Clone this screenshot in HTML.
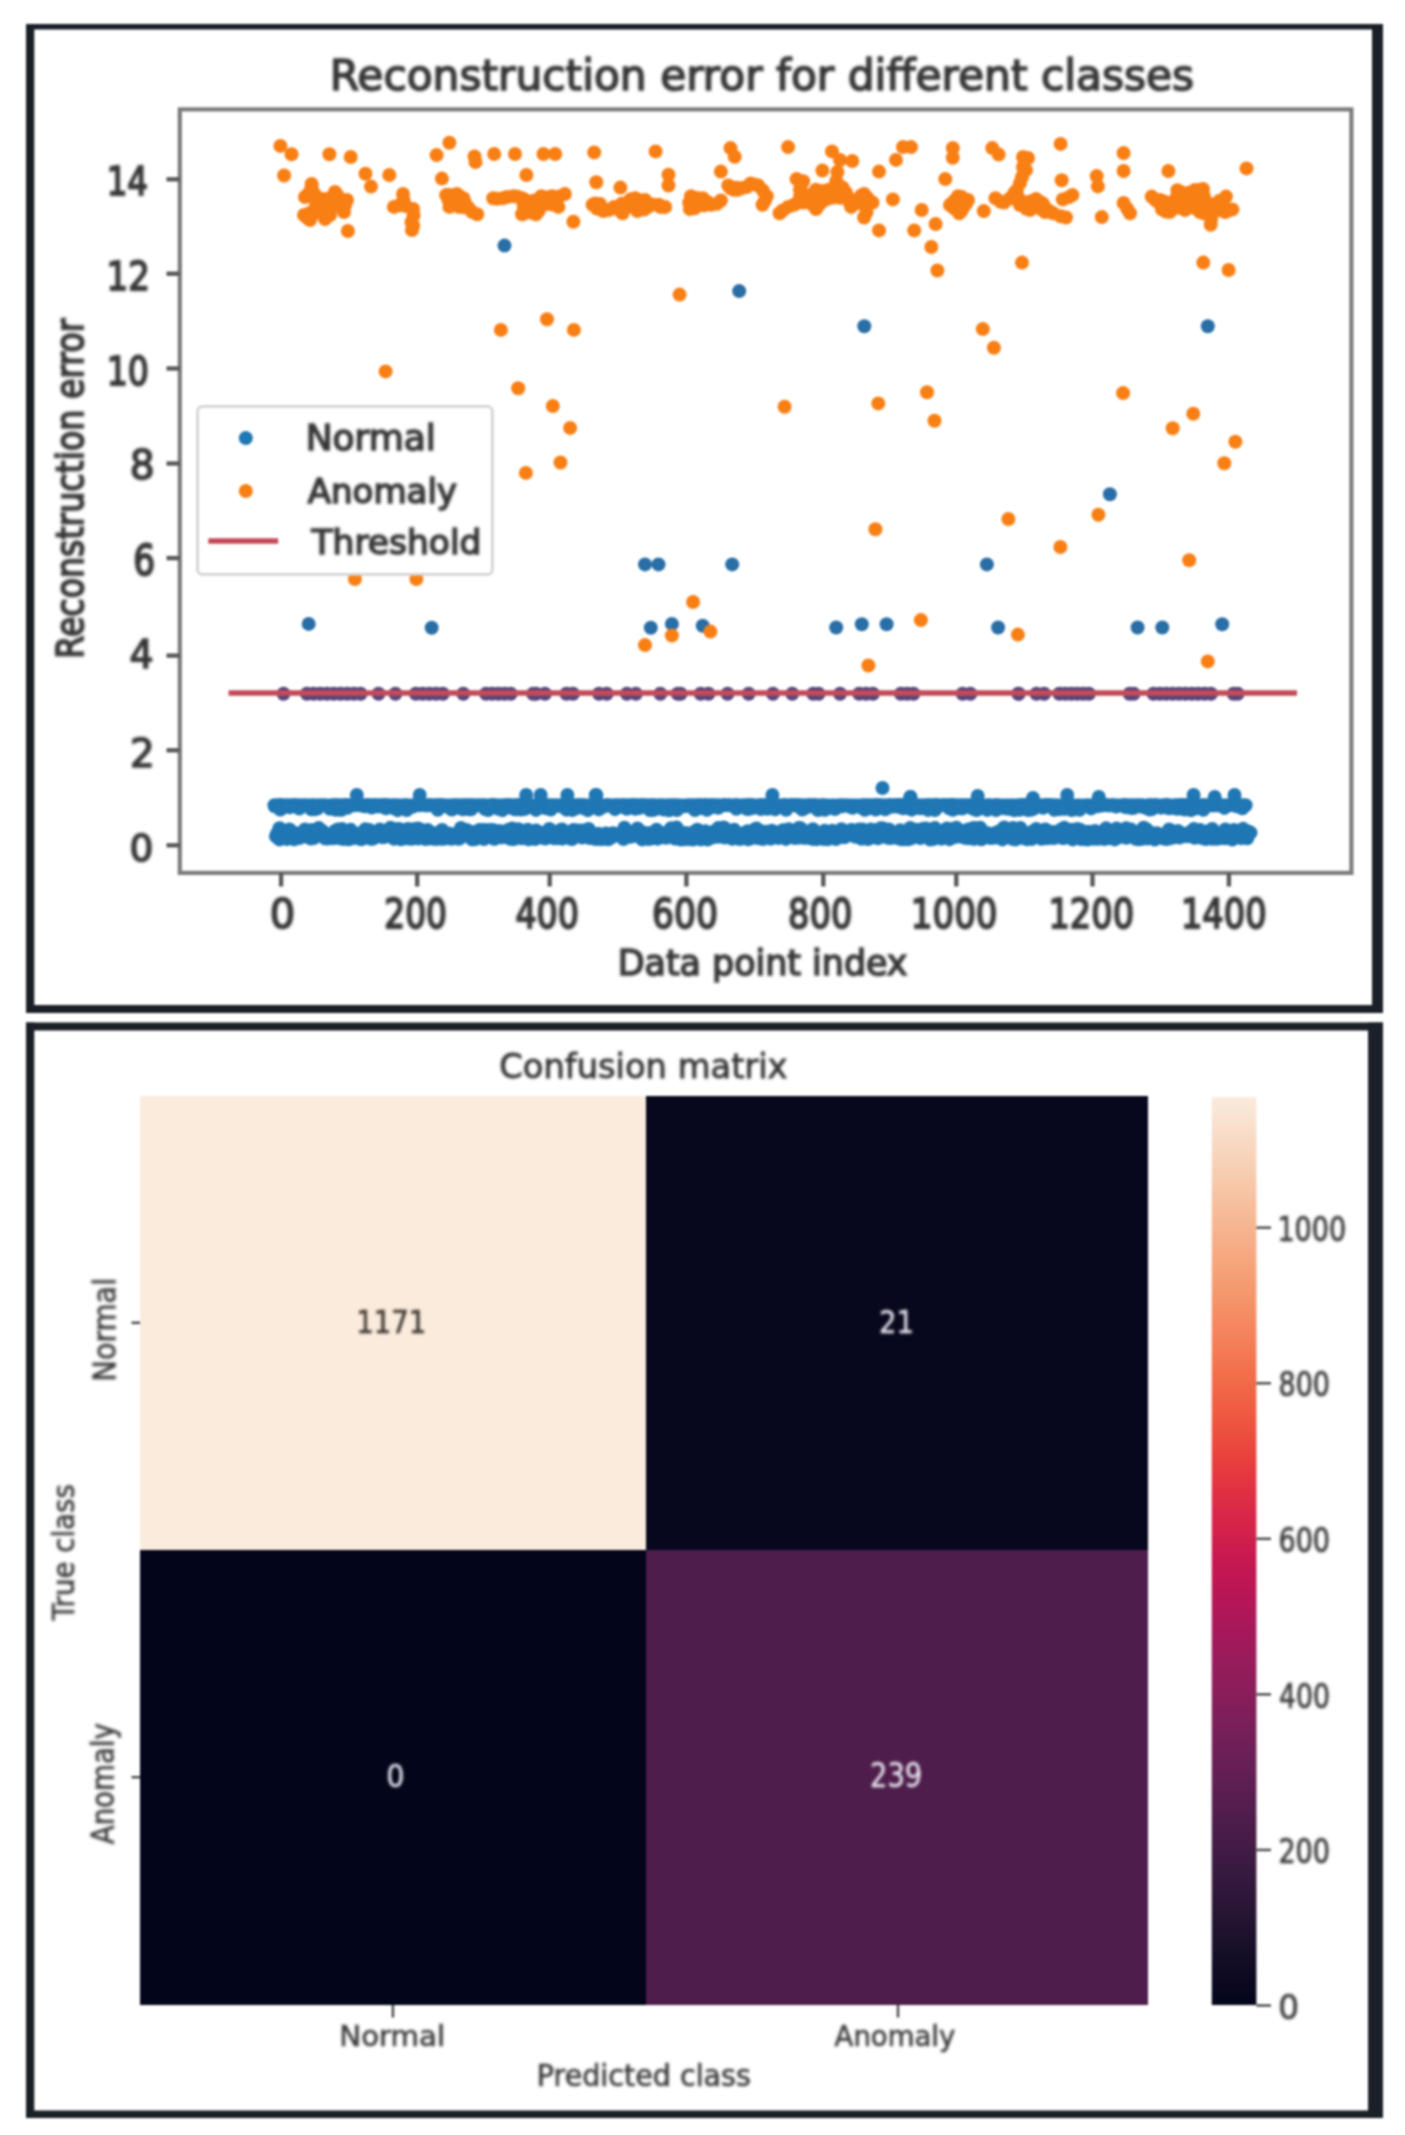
<!DOCTYPE html><html><head><meta charset="utf-8"><title>Reconstruction error and confusion matrix</title>
<style>html,body{margin:0;padding:0;background:#fff;}svg{display:block;}text{font-family:'DejaVu Sans', 'Liberation Sans', sans-serif;}</style></head><body>
<svg width="1405" height="2135" viewBox="0 0 1405 2135">
<defs>
<linearGradient id="rocket" x1="0" y1="1" x2="0" y2="0">
<stop offset="0.0000" stop-color="#03051a"/>
<stop offset="0.0312" stop-color="#0d0a21"/>
<stop offset="0.0625" stop-color="#180f29"/>
<stop offset="0.0938" stop-color="#241432"/>
<stop offset="0.1250" stop-color="#30173a"/>
<stop offset="0.1562" stop-color="#3c1a42"/>
<stop offset="0.1875" stop-color="#481c48"/>
<stop offset="0.2188" stop-color="#541e4e"/>
<stop offset="0.2500" stop-color="#611f53"/>
<stop offset="0.2812" stop-color="#6e1f57"/>
<stop offset="0.3125" stop-color="#7b1f59"/>
<stop offset="0.3438" stop-color="#891e5b"/>
<stop offset="0.3750" stop-color="#971c5b"/>
<stop offset="0.4062" stop-color="#a4195b"/>
<stop offset="0.4375" stop-color="#b21758"/>
<stop offset="0.4688" stop-color="#bf1654"/>
<stop offset="0.5000" stop-color="#cb1b4f"/>
<stop offset="0.5312" stop-color="#d62449"/>
<stop offset="0.5625" stop-color="#df2f44"/>
<stop offset="0.5938" stop-color="#e73d3f"/>
<stop offset="0.6250" stop-color="#ec4c3e"/>
<stop offset="0.6562" stop-color="#f05c42"/>
<stop offset="0.6875" stop-color="#f26b49"/>
<stop offset="0.7188" stop-color="#f47a54"/>
<stop offset="0.7500" stop-color="#f58860"/>
<stop offset="0.7812" stop-color="#f5966c"/>
<stop offset="0.8125" stop-color="#f6a37a"/>
<stop offset="0.8438" stop-color="#f6b089"/>
<stop offset="0.8750" stop-color="#f6bc99"/>
<stop offset="0.9062" stop-color="#f7c9aa"/>
<stop offset="0.9375" stop-color="#f8d4bc"/>
<stop offset="0.9688" stop-color="#f9e0cd"/>
<stop offset="1.0000" stop-color="#faebdd"/>
</linearGradient>
<filter id="soft" x="-5%" y="-5%" width="110%" height="110%" color-interpolation-filters="sRGB"><feGaussianBlur stdDeviation="0.9"/></filter>
<filter id="tsoft" x="-10%" y="-30%" width="120%" height="160%" color-interpolation-filters="sRGB"><feGaussianBlur stdDeviation="1.0"/></filter>
</defs>
<rect width="1405" height="2135" fill="#ffffff"/>
<g id="main" filter="url(#soft)">
<rect x="26" y="24" width="1357" height="5.5" fill="#1b1f27"/>
<rect x="26" y="24" width="8.3" height="989" fill="#1b1f27"/>
<rect x="1372" y="24" width="11" height="989" fill="#1b1f27"/>
<rect x="26" y="1005" width="1357" height="8" fill="#1b1f27"/>
<g fill="#1f77b4"><circle cx="274.5" cy="805.19" r="7.0"/><circle cx="274.8" cy="806.3" r="7.0"/><circle cx="277.57" cy="805.22" r="7.0"/><circle cx="277.59" cy="806.16" r="7.0"/><circle cx="280.44" cy="805.04" r="7.0"/><circle cx="280.29" cy="809.47" r="7.0"/><circle cx="282.69" cy="805.13" r="7.0"/><circle cx="286.58" cy="805.35" r="7.0"/><circle cx="287.53" cy="806.2" r="7.0"/><circle cx="290.3" cy="805.17" r="7.0"/><circle cx="289.53" cy="807.3" r="7.0"/><circle cx="293.93" cy="805.11" r="7.0"/><circle cx="297.21" cy="805.22" r="7.0"/><circle cx="296.33" cy="806.25" r="7.0"/><circle cx="299.62" cy="805.41" r="7.0"/><circle cx="299.25" cy="808.46" r="7.0"/><circle cx="302.53" cy="805.18" r="7.0"/><circle cx="305.93" cy="805.15" r="7.0"/><circle cx="308.98" cy="805.53" r="7.0"/><circle cx="311.55" cy="805.59" r="7.0"/><circle cx="311.39" cy="809.18" r="7.0"/><circle cx="313.86" cy="805.29" r="7.0"/><circle cx="314.19" cy="809.21" r="7.0"/><circle cx="317" cy="805.53" r="7.0"/><circle cx="317.39" cy="808.5" r="7.0"/><circle cx="320.16" cy="805.27" r="7.0"/><circle cx="324.05" cy="805.28" r="7.0"/><circle cx="326.17" cy="805.42" r="7.0"/><circle cx="330.16" cy="805.49" r="7.0"/><circle cx="329.93" cy="808.81" r="7.0"/><circle cx="332.2" cy="805.28" r="7.0"/><circle cx="331.44" cy="806.25" r="7.0"/><circle cx="335.74" cy="805.08" r="7.0"/><circle cx="335.52" cy="809.66" r="7.0"/><circle cx="337.9" cy="805.27" r="7.0"/><circle cx="338.67" cy="809.44" r="7.0"/><circle cx="341.63" cy="805.17" r="7.0"/><circle cx="341.35" cy="809.71" r="7.0"/><circle cx="345.54" cy="805.09" r="7.0"/><circle cx="345.01" cy="806.98" r="7.0"/><circle cx="348.51" cy="805.35" r="7.0"/><circle cx="347.52" cy="807.76" r="7.0"/><circle cx="351.25" cy="805.34" r="7.0"/><circle cx="354.63" cy="805.31" r="7.0"/><circle cx="357.99" cy="805.03" r="7.0"/><circle cx="361.55" cy="805.52" r="7.0"/><circle cx="364.33" cy="805.24" r="7.0"/><circle cx="364.6" cy="806.26" r="7.0"/><circle cx="366.47" cy="805.13" r="7.0"/><circle cx="366.15" cy="806.22" r="7.0"/><circle cx="368.47" cy="805.09" r="7.0"/><circle cx="368.19" cy="806.11" r="7.0"/><circle cx="372.21" cy="805.37" r="7.0"/><circle cx="371.72" cy="807.46" r="7.0"/><circle cx="374.94" cy="805.07" r="7.0"/><circle cx="378.93" cy="805.28" r="7.0"/><circle cx="378.1" cy="806.43" r="7.0"/><circle cx="381.61" cy="805.16" r="7.0"/><circle cx="383.94" cy="805.01" r="7.0"/><circle cx="386.99" cy="805.09" r="7.0"/><circle cx="386.05" cy="808.22" r="7.0"/><circle cx="390.95" cy="805.52" r="7.0"/><circle cx="393.47" cy="805.22" r="7.0"/><circle cx="394.02" cy="808.24" r="7.0"/><circle cx="397.03" cy="805.2" r="7.0"/><circle cx="397.65" cy="810.14" r="7.0"/><circle cx="400.74" cy="805.48" r="7.0"/><circle cx="404.22" cy="805.14" r="7.0"/><circle cx="403.93" cy="806.12" r="7.0"/><circle cx="406.27" cy="805.17" r="7.0"/><circle cx="406.66" cy="810.02" r="7.0"/><circle cx="409.17" cy="805.56" r="7.0"/><circle cx="413.08" cy="805.22" r="7.0"/><circle cx="412.53" cy="806.83" r="7.0"/><circle cx="415.49" cy="805.37" r="7.0"/><circle cx="419.17" cy="805.29" r="7.0"/><circle cx="422.77" cy="805.05" r="7.0"/><circle cx="426.59" cy="805.47" r="7.0"/><circle cx="429.54" cy="805.11" r="7.0"/><circle cx="432.21" cy="805.48" r="7.0"/><circle cx="435" cy="805.24" r="7.0"/><circle cx="438.45" cy="805.1" r="7.0"/><circle cx="437.75" cy="809.8" r="7.0"/><circle cx="442.06" cy="805.09" r="7.0"/><circle cx="446.02" cy="805.39" r="7.0"/><circle cx="446.12" cy="806.55" r="7.0"/><circle cx="448.05" cy="805.58" r="7.0"/><circle cx="451.1" cy="805.56" r="7.0"/><circle cx="451.85" cy="809.47" r="7.0"/><circle cx="453.52" cy="805.15" r="7.0"/><circle cx="453.01" cy="808.46" r="7.0"/><circle cx="456.04" cy="805.25" r="7.0"/><circle cx="456.86" cy="807.49" r="7.0"/><circle cx="458.96" cy="805.35" r="7.0"/><circle cx="461.8" cy="805.55" r="7.0"/><circle cx="461.86" cy="808.2" r="7.0"/><circle cx="463.84" cy="805.26" r="7.0"/><circle cx="462.85" cy="809.36" r="7.0"/><circle cx="466.18" cy="805.28" r="7.0"/><circle cx="469.3" cy="805.2" r="7.0"/><circle cx="469.41" cy="809.29" r="7.0"/><circle cx="471.51" cy="805.34" r="7.0"/><circle cx="471.06" cy="809.24" r="7.0"/><circle cx="474.52" cy="805.34" r="7.0"/><circle cx="478.35" cy="805.27" r="7.0"/><circle cx="481.36" cy="805.31" r="7.0"/><circle cx="484.26" cy="805.32" r="7.0"/><circle cx="485.15" cy="808.94" r="7.0"/><circle cx="488.02" cy="805.57" r="7.0"/><circle cx="488.14" cy="809.96" r="7.0"/><circle cx="491.7" cy="805.08" r="7.0"/><circle cx="491.58" cy="806.3" r="7.0"/><circle cx="494.18" cy="805.04" r="7.0"/><circle cx="497.75" cy="805.54" r="7.0"/><circle cx="498.18" cy="808.77" r="7.0"/><circle cx="500.03" cy="805.53" r="7.0"/><circle cx="502.47" cy="805.57" r="7.0"/><circle cx="502.45" cy="810.16" r="7.0"/><circle cx="506.14" cy="805.1" r="7.0"/><circle cx="506.17" cy="807.42" r="7.0"/><circle cx="508.53" cy="805.19" r="7.0"/><circle cx="510.57" cy="805.33" r="7.0"/><circle cx="509.6" cy="807.39" r="7.0"/><circle cx="513.82" cy="805.31" r="7.0"/><circle cx="514.79" cy="809.31" r="7.0"/><circle cx="517.76" cy="805.06" r="7.0"/><circle cx="516.84" cy="809.27" r="7.0"/><circle cx="520.3" cy="805.08" r="7.0"/><circle cx="521.12" cy="809.44" r="7.0"/><circle cx="522.82" cy="805.09" r="7.0"/><circle cx="525.96" cy="805.42" r="7.0"/><circle cx="525.07" cy="808.89" r="7.0"/><circle cx="528.81" cy="805.04" r="7.0"/><circle cx="532.08" cy="805.48" r="7.0"/><circle cx="532.79" cy="806.28" r="7.0"/><circle cx="535.8" cy="805.27" r="7.0"/><circle cx="535.91" cy="809.89" r="7.0"/><circle cx="538.34" cy="805.08" r="7.0"/><circle cx="537.82" cy="806.46" r="7.0"/><circle cx="540.66" cy="805.03" r="7.0"/><circle cx="540.29" cy="807.28" r="7.0"/><circle cx="544.18" cy="805.17" r="7.0"/><circle cx="543.54" cy="807.46" r="7.0"/><circle cx="546.22" cy="805.15" r="7.0"/><circle cx="546.68" cy="808.31" r="7.0"/><circle cx="548.6" cy="805.28" r="7.0"/><circle cx="550.81" cy="805.49" r="7.0"/><circle cx="550.8" cy="809.51" r="7.0"/><circle cx="553.59" cy="805.3" r="7.0"/><circle cx="557.56" cy="805.21" r="7.0"/><circle cx="560.97" cy="805.38" r="7.0"/><circle cx="560.67" cy="806.23" r="7.0"/><circle cx="563.23" cy="805.04" r="7.0"/><circle cx="565.74" cy="805.1" r="7.0"/><circle cx="566.43" cy="809.66" r="7.0"/><circle cx="569.08" cy="805.17" r="7.0"/><circle cx="568.67" cy="807.93" r="7.0"/><circle cx="571.4" cy="805.27" r="7.0"/><circle cx="572.32" cy="810.09" r="7.0"/><circle cx="574.49" cy="805.15" r="7.0"/><circle cx="577.11" cy="805.21" r="7.0"/><circle cx="576.88" cy="807.99" r="7.0"/><circle cx="580.12" cy="805.12" r="7.0"/><circle cx="579.13" cy="807.11" r="7.0"/><circle cx="582.3" cy="805.24" r="7.0"/><circle cx="581.34" cy="807.28" r="7.0"/><circle cx="584.76" cy="805.35" r="7.0"/><circle cx="585.26" cy="808.76" r="7.0"/><circle cx="588.2" cy="805.53" r="7.0"/><circle cx="587.85" cy="810.14" r="7.0"/><circle cx="590.49" cy="805.43" r="7.0"/><circle cx="592.58" cy="805.5" r="7.0"/><circle cx="595.84" cy="805.44" r="7.0"/><circle cx="598.12" cy="805.31" r="7.0"/><circle cx="598.79" cy="809.38" r="7.0"/><circle cx="601.77" cy="805.35" r="7.0"/><circle cx="605.13" cy="805.42" r="7.0"/><circle cx="604.2" cy="806.56" r="7.0"/><circle cx="607.86" cy="805.06" r="7.0"/><circle cx="610.97" cy="805.38" r="7.0"/><circle cx="614.33" cy="805.29" r="7.0"/><circle cx="614.93" cy="809.14" r="7.0"/><circle cx="617.34" cy="805.32" r="7.0"/><circle cx="619.47" cy="805.44" r="7.0"/><circle cx="618.62" cy="807.12" r="7.0"/><circle cx="622.93" cy="805.12" r="7.0"/><circle cx="626.88" cy="805.3" r="7.0"/><circle cx="626.84" cy="808.87" r="7.0"/><circle cx="630.42" cy="805.37" r="7.0"/><circle cx="632.57" cy="805.09" r="7.0"/><circle cx="633.06" cy="807.28" r="7.0"/><circle cx="635.71" cy="805.01" r="7.0"/><circle cx="635.24" cy="808.82" r="7.0"/><circle cx="639.09" cy="805.41" r="7.0"/><circle cx="639.12" cy="807.95" r="7.0"/><circle cx="642.02" cy="805.07" r="7.0"/><circle cx="644.42" cy="805.59" r="7.0"/><circle cx="646.46" cy="805.28" r="7.0"/><circle cx="650.39" cy="805.27" r="7.0"/><circle cx="649.81" cy="809.97" r="7.0"/><circle cx="652.81" cy="805.35" r="7.0"/><circle cx="652.86" cy="810" r="7.0"/><circle cx="655.08" cy="805.49" r="7.0"/><circle cx="655.85" cy="808.95" r="7.0"/><circle cx="657.54" cy="805.54" r="7.0"/><circle cx="656.59" cy="806.02" r="7.0"/><circle cx="660.53" cy="805.27" r="7.0"/><circle cx="659.81" cy="807.44" r="7.0"/><circle cx="663.16" cy="805.5" r="7.0"/><circle cx="663.66" cy="809.52" r="7.0"/><circle cx="665.4" cy="805.56" r="7.0"/><circle cx="669.2" cy="805.17" r="7.0"/><circle cx="668.99" cy="810.19" r="7.0"/><circle cx="672.38" cy="805.22" r="7.0"/><circle cx="671.93" cy="806.2" r="7.0"/><circle cx="674.58" cy="805.5" r="7.0"/><circle cx="675.45" cy="807.05" r="7.0"/><circle cx="677.11" cy="805.31" r="7.0"/><circle cx="676.86" cy="810.02" r="7.0"/><circle cx="680.88" cy="805.49" r="7.0"/><circle cx="684.71" cy="805.56" r="7.0"/><circle cx="685.15" cy="806.21" r="7.0"/><circle cx="688.17" cy="805.27" r="7.0"/><circle cx="691.46" cy="805.17" r="7.0"/><circle cx="692.32" cy="806.53" r="7.0"/><circle cx="694.41" cy="805.21" r="7.0"/><circle cx="694.89" cy="810.1" r="7.0"/><circle cx="696.93" cy="805.39" r="7.0"/><circle cx="697.04" cy="807.66" r="7.0"/><circle cx="699.26" cy="805.1" r="7.0"/><circle cx="700.08" cy="808.09" r="7.0"/><circle cx="701.7" cy="805.54" r="7.0"/><circle cx="704.6" cy="805.08" r="7.0"/><circle cx="703.78" cy="807.44" r="7.0"/><circle cx="706.79" cy="805.14" r="7.0"/><circle cx="706.92" cy="809.73" r="7.0"/><circle cx="710.28" cy="805.25" r="7.0"/><circle cx="710.33" cy="807.58" r="7.0"/><circle cx="712.96" cy="805.04" r="7.0"/><circle cx="713.9" cy="806.53" r="7.0"/><circle cx="715.97" cy="805.38" r="7.0"/><circle cx="718.4" cy="805.16" r="7.0"/><circle cx="718.2" cy="807.87" r="7.0"/><circle cx="722.31" cy="805.51" r="7.0"/><circle cx="724.35" cy="805.02" r="7.0"/><circle cx="728.14" cy="805.28" r="7.0"/><circle cx="730.14" cy="805.23" r="7.0"/><circle cx="733.79" cy="805.51" r="7.0"/><circle cx="736.29" cy="805.07" r="7.0"/><circle cx="736.34" cy="808.86" r="7.0"/><circle cx="740.17" cy="805.43" r="7.0"/><circle cx="743.7" cy="805.27" r="7.0"/><circle cx="745.78" cy="805.47" r="7.0"/><circle cx="746.62" cy="808.71" r="7.0"/><circle cx="748.39" cy="805.08" r="7.0"/><circle cx="748.66" cy="808.93" r="7.0"/><circle cx="750.61" cy="805.04" r="7.0"/><circle cx="750.78" cy="807.63" r="7.0"/><circle cx="753.06" cy="805.36" r="7.0"/><circle cx="752.66" cy="807.93" r="7.0"/><circle cx="756.98" cy="805.39" r="7.0"/><circle cx="759.93" cy="805.14" r="7.0"/><circle cx="760.85" cy="808.96" r="7.0"/><circle cx="762.55" cy="805.01" r="7.0"/><circle cx="762.89" cy="807.76" r="7.0"/><circle cx="765.06" cy="805.4" r="7.0"/><circle cx="767.51" cy="805.02" r="7.0"/><circle cx="767.35" cy="808.87" r="7.0"/><circle cx="769.91" cy="805.48" r="7.0"/><circle cx="772.92" cy="805.12" r="7.0"/><circle cx="775.54" cy="805.49" r="7.0"/><circle cx="774.99" cy="809.19" r="7.0"/><circle cx="778.13" cy="805.57" r="7.0"/><circle cx="777.51" cy="806.94" r="7.0"/><circle cx="780.97" cy="805.4" r="7.0"/><circle cx="783.26" cy="805.24" r="7.0"/><circle cx="784.21" cy="806.6" r="7.0"/><circle cx="785.36" cy="805.04" r="7.0"/><circle cx="786.16" cy="809.71" r="7.0"/><circle cx="788.83" cy="805.6" r="7.0"/><circle cx="791.49" cy="805.11" r="7.0"/><circle cx="794.98" cy="805.02" r="7.0"/><circle cx="797.74" cy="805.22" r="7.0"/><circle cx="797.08" cy="806.01" r="7.0"/><circle cx="800.3" cy="805.21" r="7.0"/><circle cx="802.54" cy="805.58" r="7.0"/><circle cx="802.26" cy="809.45" r="7.0"/><circle cx="806.19" cy="805.26" r="7.0"/><circle cx="806.13" cy="807.57" r="7.0"/><circle cx="810.03" cy="805.12" r="7.0"/><circle cx="810.82" cy="806.13" r="7.0"/><circle cx="812.85" cy="805.49" r="7.0"/><circle cx="814.93" cy="805.02" r="7.0"/><circle cx="815.77" cy="807.08" r="7.0"/><circle cx="818.42" cy="805.54" r="7.0"/><circle cx="817.97" cy="810.02" r="7.0"/><circle cx="821.66" cy="805.16" r="7.0"/><circle cx="824.29" cy="805.17" r="7.0"/><circle cx="824.8" cy="809.85" r="7.0"/><circle cx="827.56" cy="805.57" r="7.0"/><circle cx="827.03" cy="808" r="7.0"/><circle cx="831.47" cy="805.57" r="7.0"/><circle cx="830.97" cy="807.81" r="7.0"/><circle cx="834.46" cy="805.56" r="7.0"/><circle cx="835.06" cy="809.1" r="7.0"/><circle cx="838.11" cy="805.46" r="7.0"/><circle cx="840.76" cy="805.19" r="7.0"/><circle cx="841.33" cy="806.33" r="7.0"/><circle cx="843.16" cy="805.45" r="7.0"/><circle cx="842.28" cy="806.14" r="7.0"/><circle cx="846.26" cy="805.2" r="7.0"/><circle cx="850.03" cy="805.59" r="7.0"/><circle cx="849.2" cy="806.4" r="7.0"/><circle cx="853.02" cy="805.43" r="7.0"/><circle cx="852.49" cy="807.75" r="7.0"/><circle cx="856.27" cy="805.4" r="7.0"/><circle cx="859.96" cy="805.4" r="7.0"/><circle cx="860.64" cy="807.23" r="7.0"/><circle cx="863.09" cy="805.22" r="7.0"/><circle cx="865.49" cy="805.15" r="7.0"/><circle cx="864.8" cy="809.71" r="7.0"/><circle cx="868.65" cy="805.2" r="7.0"/><circle cx="869.63" cy="808.13" r="7.0"/><circle cx="871.11" cy="805.49" r="7.0"/><circle cx="875.09" cy="805.06" r="7.0"/><circle cx="875.73" cy="809.53" r="7.0"/><circle cx="878.92" cy="805.02" r="7.0"/><circle cx="878.16" cy="806.8" r="7.0"/><circle cx="882.87" cy="805.35" r="7.0"/><circle cx="885.61" cy="805.52" r="7.0"/><circle cx="885.13" cy="809.27" r="7.0"/><circle cx="889.5" cy="805.06" r="7.0"/><circle cx="892.74" cy="805.13" r="7.0"/><circle cx="892.03" cy="806.86" r="7.0"/><circle cx="895.25" cy="805.36" r="7.0"/><circle cx="897.66" cy="805.01" r="7.0"/><circle cx="898.02" cy="806.78" r="7.0"/><circle cx="900.28" cy="805.12" r="7.0"/><circle cx="903.38" cy="805.04" r="7.0"/><circle cx="903.17" cy="808.31" r="7.0"/><circle cx="906.66" cy="805.05" r="7.0"/><circle cx="907.05" cy="807.72" r="7.0"/><circle cx="909.23" cy="805.18" r="7.0"/><circle cx="911.85" cy="805.34" r="7.0"/><circle cx="911.68" cy="809.63" r="7.0"/><circle cx="915.84" cy="805.22" r="7.0"/><circle cx="916.3" cy="806.86" r="7.0"/><circle cx="917.85" cy="805.54" r="7.0"/><circle cx="918.5" cy="807.71" r="7.0"/><circle cx="921.62" cy="805.28" r="7.0"/><circle cx="920.65" cy="808.32" r="7.0"/><circle cx="924.9" cy="805.55" r="7.0"/><circle cx="925.15" cy="807.56" r="7.0"/><circle cx="927.91" cy="805.09" r="7.0"/><circle cx="927.95" cy="809.89" r="7.0"/><circle cx="930.13" cy="805.29" r="7.0"/><circle cx="934.06" cy="805.12" r="7.0"/><circle cx="934.95" cy="810.1" r="7.0"/><circle cx="937.03" cy="805.03" r="7.0"/><circle cx="939.8" cy="805.54" r="7.0"/><circle cx="943.45" cy="805.1" r="7.0"/><circle cx="945.9" cy="805.24" r="7.0"/><circle cx="949.55" cy="805.11" r="7.0"/><circle cx="949.35" cy="808.18" r="7.0"/><circle cx="952.32" cy="805.07" r="7.0"/><circle cx="952.77" cy="809.77" r="7.0"/><circle cx="954.4" cy="805.34" r="7.0"/><circle cx="956.48" cy="805.5" r="7.0"/><circle cx="956.68" cy="808.31" r="7.0"/><circle cx="959.73" cy="805.18" r="7.0"/><circle cx="959.9" cy="807.79" r="7.0"/><circle cx="963.05" cy="805.27" r="7.0"/><circle cx="962.1" cy="808.6" r="7.0"/><circle cx="966.03" cy="805.14" r="7.0"/><circle cx="969.59" cy="805.27" r="7.0"/><circle cx="969.54" cy="806.45" r="7.0"/><circle cx="971.85" cy="805.26" r="7.0"/><circle cx="971.73" cy="808.14" r="7.0"/><circle cx="973.93" cy="805.38" r="7.0"/><circle cx="974.4" cy="809.27" r="7.0"/><circle cx="976.95" cy="805.03" r="7.0"/><circle cx="976.71" cy="809.99" r="7.0"/><circle cx="979.23" cy="805.51" r="7.0"/><circle cx="982.69" cy="805.49" r="7.0"/><circle cx="983.65" cy="808.07" r="7.0"/><circle cx="986.6" cy="805.55" r="7.0"/><circle cx="987.18" cy="809.91" r="7.0"/><circle cx="988.73" cy="805.21" r="7.0"/><circle cx="991.05" cy="805.54" r="7.0"/><circle cx="991.68" cy="806.6" r="7.0"/><circle cx="994.06" cy="805.55" r="7.0"/><circle cx="993.58" cy="808.13" r="7.0"/><circle cx="996.69" cy="805.02" r="7.0"/><circle cx="996.02" cy="809.93" r="7.0"/><circle cx="1000.05" cy="805.54" r="7.0"/><circle cx="1000.62" cy="806.48" r="7.0"/><circle cx="1003.11" cy="805.38" r="7.0"/><circle cx="1003.86" cy="808.33" r="7.0"/><circle cx="1006.27" cy="805.53" r="7.0"/><circle cx="1007.26" cy="808.65" r="7.0"/><circle cx="1009.06" cy="805.48" r="7.0"/><circle cx="1010.04" cy="808.42" r="7.0"/><circle cx="1011.78" cy="805.46" r="7.0"/><circle cx="1011.14" cy="809.12" r="7.0"/><circle cx="1013.88" cy="805.49" r="7.0"/><circle cx="1014.16" cy="810.13" r="7.0"/><circle cx="1017.05" cy="805.4" r="7.0"/><circle cx="1016.06" cy="806.14" r="7.0"/><circle cx="1019.35" cy="805.37" r="7.0"/><circle cx="1019.38" cy="809.76" r="7.0"/><circle cx="1021.61" cy="805.14" r="7.0"/><circle cx="1023.66" cy="805" r="7.0"/><circle cx="1022.87" cy="807.5" r="7.0"/><circle cx="1026.11" cy="805.35" r="7.0"/><circle cx="1028.52" cy="805.37" r="7.0"/><circle cx="1027.79" cy="809.93" r="7.0"/><circle cx="1031" cy="805.09" r="7.0"/><circle cx="1031.28" cy="809.66" r="7.0"/><circle cx="1034.57" cy="805.24" r="7.0"/><circle cx="1033.59" cy="808.71" r="7.0"/><circle cx="1037.69" cy="805.21" r="7.0"/><circle cx="1040.58" cy="805.56" r="7.0"/><circle cx="1043.08" cy="805.54" r="7.0"/><circle cx="1043.14" cy="807.71" r="7.0"/><circle cx="1045.55" cy="805.04" r="7.0"/><circle cx="1047.58" cy="805.33" r="7.0"/><circle cx="1049.86" cy="805.12" r="7.0"/><circle cx="1052.88" cy="805.38" r="7.0"/><circle cx="1055.22" cy="805.19" r="7.0"/><circle cx="1054.32" cy="809.74" r="7.0"/><circle cx="1058.79" cy="805.43" r="7.0"/><circle cx="1059.48" cy="809.13" r="7.0"/><circle cx="1061.72" cy="805.45" r="7.0"/><circle cx="1061.17" cy="806.44" r="7.0"/><circle cx="1064.19" cy="805.02" r="7.0"/><circle cx="1064.68" cy="808.92" r="7.0"/><circle cx="1067.88" cy="805.43" r="7.0"/><circle cx="1067.98" cy="807.83" r="7.0"/><circle cx="1071.45" cy="805.31" r="7.0"/><circle cx="1071.74" cy="810.05" r="7.0"/><circle cx="1073.89" cy="805.53" r="7.0"/><circle cx="1073.41" cy="806.99" r="7.0"/><circle cx="1077.37" cy="805.57" r="7.0"/><circle cx="1080.03" cy="805.53" r="7.0"/><circle cx="1079.51" cy="809.81" r="7.0"/><circle cx="1083.29" cy="805.42" r="7.0"/><circle cx="1087.25" cy="805.28" r="7.0"/><circle cx="1090.64" cy="805.51" r="7.0"/><circle cx="1091.09" cy="808.4" r="7.0"/><circle cx="1093.26" cy="805.13" r="7.0"/><circle cx="1095.41" cy="805.55" r="7.0"/><circle cx="1094.47" cy="806.45" r="7.0"/><circle cx="1099.27" cy="805.21" r="7.0"/><circle cx="1098.33" cy="806.17" r="7.0"/><circle cx="1102.66" cy="805.38" r="7.0"/><circle cx="1106.13" cy="805.04" r="7.0"/><circle cx="1108.86" cy="805.49" r="7.0"/><circle cx="1112.64" cy="805.04" r="7.0"/><circle cx="1116.47" cy="805.57" r="7.0"/><circle cx="1115.88" cy="806.47" r="7.0"/><circle cx="1118.54" cy="805.51" r="7.0"/><circle cx="1121.81" cy="805.5" r="7.0"/><circle cx="1124.38" cy="805.06" r="7.0"/><circle cx="1124.9" cy="806.86" r="7.0"/><circle cx="1127.02" cy="805.25" r="7.0"/><circle cx="1126.53" cy="807.19" r="7.0"/><circle cx="1130.45" cy="805.22" r="7.0"/><circle cx="1131.38" cy="808.12" r="7.0"/><circle cx="1134.15" cy="805.37" r="7.0"/><circle cx="1133.98" cy="807.83" r="7.0"/><circle cx="1137.7" cy="805.21" r="7.0"/><circle cx="1140.78" cy="805.13" r="7.0"/><circle cx="1142.96" cy="805.49" r="7.0"/><circle cx="1141.96" cy="806.85" r="7.0"/><circle cx="1146.48" cy="805.59" r="7.0"/><circle cx="1146.46" cy="808.06" r="7.0"/><circle cx="1150.08" cy="805.11" r="7.0"/><circle cx="1149.77" cy="809.49" r="7.0"/><circle cx="1152.6" cy="805.57" r="7.0"/><circle cx="1152.03" cy="808.94" r="7.0"/><circle cx="1155.59" cy="805.07" r="7.0"/><circle cx="1157.75" cy="805.47" r="7.0"/><circle cx="1161.33" cy="805.38" r="7.0"/><circle cx="1161.13" cy="807.66" r="7.0"/><circle cx="1165.11" cy="805.05" r="7.0"/><circle cx="1167.16" cy="805.12" r="7.0"/><circle cx="1167.96" cy="808.1" r="7.0"/><circle cx="1169.92" cy="805.53" r="7.0"/><circle cx="1169.84" cy="808.23" r="7.0"/><circle cx="1173.43" cy="805.45" r="7.0"/><circle cx="1176.12" cy="805.2" r="7.0"/><circle cx="1176.81" cy="808.78" r="7.0"/><circle cx="1179.61" cy="805.1" r="7.0"/><circle cx="1180.16" cy="808.43" r="7.0"/><circle cx="1181.86" cy="805.28" r="7.0"/><circle cx="1184.34" cy="805.11" r="7.0"/><circle cx="1184.74" cy="809.54" r="7.0"/><circle cx="1186.65" cy="805.09" r="7.0"/><circle cx="1186.3" cy="808.19" r="7.0"/><circle cx="1188.97" cy="805.2" r="7.0"/><circle cx="1189.92" cy="809.06" r="7.0"/><circle cx="1191.17" cy="805.58" r="7.0"/><circle cx="1190.94" cy="810.13" r="7.0"/><circle cx="1194.76" cy="805.44" r="7.0"/><circle cx="1194.15" cy="808.68" r="7.0"/><circle cx="1196.97" cy="805.12" r="7.0"/><circle cx="1196.04" cy="807.68" r="7.0"/><circle cx="1200.56" cy="805.42" r="7.0"/><circle cx="1200.82" cy="807.95" r="7.0"/><circle cx="1202.84" cy="805.36" r="7.0"/><circle cx="1203.32" cy="809.81" r="7.0"/><circle cx="1205.7" cy="805.34" r="7.0"/><circle cx="1208.54" cy="805.14" r="7.0"/><circle cx="1212.3" cy="805.46" r="7.0"/><circle cx="1216.01" cy="805.41" r="7.0"/><circle cx="1218.92" cy="805.19" r="7.0"/><circle cx="1221.11" cy="805.25" r="7.0"/><circle cx="1224.54" cy="805.38" r="7.0"/><circle cx="1224.38" cy="807.91" r="7.0"/><circle cx="1227.78" cy="805.25" r="7.0"/><circle cx="1231.64" cy="805.11" r="7.0"/><circle cx="1235.2" cy="805.23" r="7.0"/><circle cx="1236.15" cy="806.16" r="7.0"/><circle cx="1238.28" cy="805.1" r="7.0"/><circle cx="1242.17" cy="805.31" r="7.0"/><circle cx="1242.31" cy="808.27" r="7.0"/><circle cx="1245.6" cy="805.31" r="7.0"/><circle cx="276" cy="836.39" r="7.0"/><circle cx="277" cy="833.6" r="7.0"/><circle cx="277.82" cy="837.45" r="7.0"/><circle cx="278.82" cy="833.42" r="7.0"/><circle cx="279.5" cy="839.4" r="7.0"/><circle cx="280.5" cy="833.05" r="7.0"/><circle cx="279.5" cy="828.19" r="7.0"/><circle cx="281.6" cy="833.09" r="7.0"/><circle cx="282.6" cy="833.69" r="7.0"/><circle cx="284.15" cy="835.29" r="7.0"/><circle cx="285.15" cy="832.15" r="7.0"/><circle cx="286.76" cy="839.11" r="7.0"/><circle cx="287.76" cy="834.77" r="7.0"/><circle cx="289.46" cy="835.55" r="7.0"/><circle cx="290.46" cy="831.62" r="7.0"/><circle cx="289.46" cy="829.44" r="7.0"/><circle cx="292.17" cy="837.12" r="7.0"/><circle cx="293.17" cy="834.19" r="7.0"/><circle cx="294.01" cy="839.27" r="7.0"/><circle cx="295.01" cy="833.03" r="7.0"/><circle cx="296.74" cy="838.31" r="7.0"/><circle cx="297.74" cy="834.18" r="7.0"/><circle cx="299.06" cy="833.81" r="7.0"/><circle cx="300.06" cy="837.84" r="7.0"/><circle cx="301.84" cy="834.74" r="7.0"/><circle cx="302.84" cy="833.26" r="7.0"/><circle cx="303.98" cy="834.21" r="7.0"/><circle cx="304.98" cy="829.53" r="7.0"/><circle cx="305.9" cy="834.59" r="7.0"/><circle cx="306.9" cy="832.52" r="7.0"/><circle cx="308.04" cy="837.14" r="7.0"/><circle cx="309.04" cy="836.09" r="7.0"/><circle cx="310.94" cy="838.55" r="7.0"/><circle cx="311.94" cy="830.07" r="7.0"/><circle cx="313.8" cy="838.1" r="7.0"/><circle cx="314.8" cy="830.9" r="7.0"/><circle cx="316.25" cy="833.1" r="7.0"/><circle cx="317.25" cy="829.61" r="7.0"/><circle cx="318.73" cy="834.63" r="7.0"/><circle cx="319.73" cy="830.52" r="7.0"/><circle cx="318.73" cy="828.08" r="7.0"/><circle cx="321.39" cy="835.25" r="7.0"/><circle cx="322.39" cy="831.03" r="7.0"/><circle cx="324.08" cy="834.09" r="7.0"/><circle cx="325.08" cy="838.41" r="7.0"/><circle cx="326.75" cy="837.34" r="7.0"/><circle cx="327.75" cy="838.44" r="7.0"/><circle cx="329.51" cy="834.28" r="7.0"/><circle cx="330.51" cy="836.43" r="7.0"/><circle cx="332.12" cy="835.85" r="7.0"/><circle cx="333.12" cy="838.33" r="7.0"/><circle cx="334.02" cy="834.52" r="7.0"/><circle cx="335.02" cy="830.89" r="7.0"/><circle cx="335.61" cy="836.04" r="7.0"/><circle cx="336.61" cy="830.94" r="7.0"/><circle cx="337.86" cy="836.51" r="7.0"/><circle cx="338.86" cy="838.13" r="7.0"/><circle cx="337.86" cy="829.6" r="7.0"/><circle cx="340.06" cy="836.66" r="7.0"/><circle cx="341.06" cy="836.15" r="7.0"/><circle cx="342.12" cy="835.72" r="7.0"/><circle cx="343.12" cy="839.11" r="7.0"/><circle cx="342.12" cy="829.09" r="7.0"/><circle cx="344.57" cy="833.19" r="7.0"/><circle cx="345.57" cy="835.6" r="7.0"/><circle cx="347.47" cy="835.15" r="7.0"/><circle cx="348.47" cy="839.32" r="7.0"/><circle cx="349.7" cy="838.83" r="7.0"/><circle cx="350.7" cy="829.84" r="7.0"/><circle cx="352.14" cy="835.2" r="7.0"/><circle cx="353.14" cy="838.12" r="7.0"/><circle cx="354.35" cy="836.42" r="7.0"/><circle cx="355.35" cy="837.21" r="7.0"/><circle cx="356.5" cy="835.75" r="7.0"/><circle cx="357.5" cy="835.04" r="7.0"/><circle cx="358.44" cy="838.38" r="7.0"/><circle cx="359.44" cy="833.54" r="7.0"/><circle cx="360.35" cy="836.29" r="7.0"/><circle cx="361.35" cy="839.25" r="7.0"/><circle cx="363.04" cy="835.15" r="7.0"/><circle cx="364.04" cy="832.67" r="7.0"/><circle cx="365.42" cy="837.13" r="7.0"/><circle cx="366.42" cy="837.34" r="7.0"/><circle cx="365.42" cy="829.31" r="7.0"/><circle cx="368.24" cy="836.55" r="7.0"/><circle cx="369.24" cy="830" r="7.0"/><circle cx="369.75" cy="834.23" r="7.0"/><circle cx="370.75" cy="838.71" r="7.0"/><circle cx="372.24" cy="838.13" r="7.0"/><circle cx="373.24" cy="838.6" r="7.0"/><circle cx="374.67" cy="837.07" r="7.0"/><circle cx="375.67" cy="836.46" r="7.0"/><circle cx="377.19" cy="834.38" r="7.0"/><circle cx="378.19" cy="836.17" r="7.0"/><circle cx="379.83" cy="833.66" r="7.0"/><circle cx="380.83" cy="831.31" r="7.0"/><circle cx="379.83" cy="829.44" r="7.0"/><circle cx="382.7" cy="837.26" r="7.0"/><circle cx="383.7" cy="833.19" r="7.0"/><circle cx="385.38" cy="836.65" r="7.0"/><circle cx="386.38" cy="832.08" r="7.0"/><circle cx="387.51" cy="835.07" r="7.0"/><circle cx="388.51" cy="833.81" r="7.0"/><circle cx="390.42" cy="833.36" r="7.0"/><circle cx="391.42" cy="835.18" r="7.0"/><circle cx="390.42" cy="827.8" r="7.0"/><circle cx="393.13" cy="836.74" r="7.0"/><circle cx="394.13" cy="838.69" r="7.0"/><circle cx="394.65" cy="835.52" r="7.0"/><circle cx="395.65" cy="835.42" r="7.0"/><circle cx="397.62" cy="836.09" r="7.0"/><circle cx="398.62" cy="833.62" r="7.0"/><circle cx="397.62" cy="829.11" r="7.0"/><circle cx="399.44" cy="833.99" r="7.0"/><circle cx="400.44" cy="829.66" r="7.0"/><circle cx="399.44" cy="829.21" r="7.0"/><circle cx="401.12" cy="839.28" r="7.0"/><circle cx="402.12" cy="830.38" r="7.0"/><circle cx="402.82" cy="833.12" r="7.0"/><circle cx="403.82" cy="836.69" r="7.0"/><circle cx="405.42" cy="834.22" r="7.0"/><circle cx="406.42" cy="830" r="7.0"/><circle cx="407.99" cy="838.56" r="7.0"/><circle cx="408.99" cy="836.8" r="7.0"/><circle cx="407.99" cy="829.07" r="7.0"/><circle cx="410.55" cy="835.99" r="7.0"/><circle cx="411.55" cy="838.82" r="7.0"/><circle cx="413.5" cy="837.66" r="7.0"/><circle cx="414.5" cy="829.61" r="7.0"/><circle cx="413.5" cy="829.13" r="7.0"/><circle cx="416.22" cy="833.52" r="7.0"/><circle cx="417.22" cy="832.61" r="7.0"/><circle cx="417.97" cy="838.6" r="7.0"/><circle cx="418.97" cy="834.36" r="7.0"/><circle cx="417.97" cy="828.42" r="7.0"/><circle cx="420.34" cy="835.85" r="7.0"/><circle cx="421.34" cy="836.27" r="7.0"/><circle cx="420.34" cy="829.49" r="7.0"/><circle cx="422.38" cy="837.19" r="7.0"/><circle cx="423.38" cy="835.8" r="7.0"/><circle cx="424.46" cy="838.11" r="7.0"/><circle cx="425.46" cy="838.95" r="7.0"/><circle cx="426.81" cy="834.9" r="7.0"/><circle cx="427.81" cy="830.11" r="7.0"/><circle cx="429.36" cy="838.38" r="7.0"/><circle cx="430.36" cy="832.82" r="7.0"/><circle cx="432.33" cy="838.4" r="7.0"/><circle cx="433.33" cy="835.51" r="7.0"/><circle cx="434.47" cy="838.77" r="7.0"/><circle cx="435.47" cy="833.27" r="7.0"/><circle cx="436.88" cy="838.82" r="7.0"/><circle cx="437.88" cy="837.57" r="7.0"/><circle cx="438.38" cy="834.71" r="7.0"/><circle cx="439.38" cy="833.73" r="7.0"/><circle cx="441.1" cy="838.77" r="7.0"/><circle cx="442.1" cy="829.92" r="7.0"/><circle cx="443.82" cy="838.64" r="7.0"/><circle cx="444.82" cy="835.22" r="7.0"/><circle cx="446.6" cy="838.25" r="7.0"/><circle cx="447.6" cy="836.35" r="7.0"/><circle cx="448.62" cy="833.55" r="7.0"/><circle cx="449.62" cy="835.04" r="7.0"/><circle cx="450.42" cy="837.88" r="7.0"/><circle cx="451.42" cy="838.82" r="7.0"/><circle cx="452.83" cy="837.4" r="7.0"/><circle cx="453.83" cy="834.15" r="7.0"/><circle cx="454.71" cy="837.88" r="7.0"/><circle cx="455.71" cy="837.42" r="7.0"/><circle cx="456.34" cy="838.24" r="7.0"/><circle cx="457.34" cy="837.22" r="7.0"/><circle cx="458.71" cy="838.83" r="7.0"/><circle cx="459.71" cy="838.35" r="7.0"/><circle cx="460.93" cy="836.83" r="7.0"/><circle cx="461.93" cy="831.39" r="7.0"/><circle cx="460.93" cy="827.95" r="7.0"/><circle cx="463.48" cy="835.36" r="7.0"/><circle cx="464.48" cy="835.14" r="7.0"/><circle cx="465.75" cy="833.97" r="7.0"/><circle cx="466.75" cy="829.95" r="7.0"/><circle cx="467.81" cy="833.69" r="7.0"/><circle cx="468.81" cy="835.83" r="7.0"/><circle cx="469.55" cy="836.88" r="7.0"/><circle cx="470.55" cy="832.95" r="7.0"/><circle cx="471.08" cy="833.22" r="7.0"/><circle cx="472.08" cy="839.4" r="7.0"/><circle cx="473.31" cy="836.69" r="7.0"/><circle cx="474.31" cy="832.12" r="7.0"/><circle cx="475.45" cy="839.15" r="7.0"/><circle cx="476.45" cy="837.17" r="7.0"/><circle cx="478.39" cy="834.65" r="7.0"/><circle cx="479.39" cy="829.88" r="7.0"/><circle cx="480.16" cy="833.54" r="7.0"/><circle cx="481.16" cy="830.01" r="7.0"/><circle cx="482.97" cy="835.98" r="7.0"/><circle cx="483.97" cy="838.97" r="7.0"/><circle cx="484.57" cy="836.89" r="7.0"/><circle cx="485.57" cy="833.47" r="7.0"/><circle cx="484.57" cy="829.9" r="7.0"/><circle cx="486.45" cy="836.67" r="7.0"/><circle cx="487.45" cy="835.91" r="7.0"/><circle cx="488.96" cy="835.56" r="7.0"/><circle cx="489.96" cy="833.98" r="7.0"/><circle cx="488.96" cy="829.91" r="7.0"/><circle cx="491.94" cy="834.44" r="7.0"/><circle cx="492.94" cy="829.89" r="7.0"/><circle cx="493.97" cy="838.87" r="7.0"/><circle cx="494.97" cy="838.55" r="7.0"/><circle cx="495.54" cy="838.11" r="7.0"/><circle cx="496.54" cy="836.6" r="7.0"/><circle cx="498.52" cy="833.36" r="7.0"/><circle cx="499.52" cy="830.95" r="7.0"/><circle cx="501.43" cy="837.4" r="7.0"/><circle cx="502.43" cy="832.49" r="7.0"/><circle cx="504.07" cy="833.69" r="7.0"/><circle cx="505.07" cy="832.74" r="7.0"/><circle cx="505.75" cy="836.13" r="7.0"/><circle cx="506.75" cy="831.19" r="7.0"/><circle cx="507.47" cy="837.4" r="7.0"/><circle cx="508.47" cy="829.63" r="7.0"/><circle cx="509.26" cy="833.23" r="7.0"/><circle cx="510.26" cy="838.78" r="7.0"/><circle cx="512.16" cy="838.63" r="7.0"/><circle cx="513.16" cy="838.39" r="7.0"/><circle cx="512.16" cy="828.62" r="7.0"/><circle cx="513.81" cy="839.04" r="7.0"/><circle cx="514.81" cy="837.92" r="7.0"/><circle cx="515.99" cy="835.21" r="7.0"/><circle cx="516.99" cy="837.73" r="7.0"/><circle cx="518.43" cy="833.93" r="7.0"/><circle cx="519.43" cy="831.72" r="7.0"/><circle cx="518.43" cy="829.28" r="7.0"/><circle cx="520.76" cy="833.94" r="7.0"/><circle cx="521.76" cy="838.21" r="7.0"/><circle cx="522.88" cy="834.01" r="7.0"/><circle cx="523.88" cy="832.21" r="7.0"/><circle cx="524.88" cy="834.09" r="7.0"/><circle cx="525.88" cy="834.41" r="7.0"/><circle cx="527.73" cy="833.74" r="7.0"/><circle cx="528.73" cy="839.29" r="7.0"/><circle cx="527.73" cy="829.74" r="7.0"/><circle cx="530.23" cy="834.37" r="7.0"/><circle cx="531.23" cy="834.27" r="7.0"/><circle cx="532.12" cy="834.31" r="7.0"/><circle cx="533.12" cy="833.14" r="7.0"/><circle cx="535.12" cy="839.01" r="7.0"/><circle cx="536.12" cy="830.48" r="7.0"/><circle cx="537.96" cy="833.37" r="7.0"/><circle cx="538.96" cy="836.76" r="7.0"/><circle cx="540.93" cy="833.1" r="7.0"/><circle cx="541.93" cy="837.57" r="7.0"/><circle cx="542.64" cy="833.01" r="7.0"/><circle cx="543.64" cy="837.82" r="7.0"/><circle cx="544.42" cy="835.83" r="7.0"/><circle cx="545.42" cy="838.62" r="7.0"/><circle cx="546.78" cy="833.9" r="7.0"/><circle cx="547.78" cy="831.3" r="7.0"/><circle cx="549.34" cy="834.28" r="7.0"/><circle cx="550.34" cy="830.29" r="7.0"/><circle cx="549.34" cy="829.02" r="7.0"/><circle cx="551.59" cy="834.78" r="7.0"/><circle cx="552.59" cy="831.56" r="7.0"/><circle cx="554.15" cy="838.28" r="7.0"/><circle cx="555.15" cy="835.33" r="7.0"/><circle cx="555.75" cy="837.76" r="7.0"/><circle cx="556.75" cy="833.58" r="7.0"/><circle cx="557.33" cy="838.27" r="7.0"/><circle cx="558.33" cy="832.85" r="7.0"/><circle cx="560.13" cy="836.2" r="7.0"/><circle cx="561.13" cy="829.65" r="7.0"/><circle cx="562.34" cy="838.67" r="7.0"/><circle cx="563.34" cy="832.16" r="7.0"/><circle cx="562.34" cy="829.58" r="7.0"/><circle cx="564.39" cy="834.06" r="7.0"/><circle cx="565.39" cy="833.21" r="7.0"/><circle cx="565.9" cy="836.38" r="7.0"/><circle cx="566.9" cy="833.96" r="7.0"/><circle cx="567.58" cy="837.64" r="7.0"/><circle cx="568.58" cy="837.67" r="7.0"/><circle cx="569.56" cy="837.62" r="7.0"/><circle cx="570.56" cy="833.31" r="7.0"/><circle cx="571.15" cy="838.67" r="7.0"/><circle cx="572.15" cy="839.04" r="7.0"/><circle cx="573.42" cy="836.45" r="7.0"/><circle cx="574.42" cy="834.87" r="7.0"/><circle cx="573.42" cy="829.92" r="7.0"/><circle cx="575.26" cy="834.19" r="7.0"/><circle cx="576.26" cy="830.53" r="7.0"/><circle cx="577.99" cy="833.2" r="7.0"/><circle cx="578.99" cy="830.46" r="7.0"/><circle cx="579.78" cy="833.11" r="7.0"/><circle cx="580.78" cy="835.49" r="7.0"/><circle cx="582.06" cy="837.57" r="7.0"/><circle cx="583.06" cy="830.53" r="7.0"/><circle cx="584.64" cy="833.29" r="7.0"/><circle cx="585.64" cy="830.73" r="7.0"/><circle cx="586.89" cy="834.82" r="7.0"/><circle cx="587.89" cy="830.72" r="7.0"/><circle cx="588.6" cy="836.85" r="7.0"/><circle cx="589.6" cy="838.11" r="7.0"/><circle cx="588.6" cy="828.93" r="7.0"/><circle cx="591.21" cy="834.07" r="7.0"/><circle cx="592.21" cy="837.76" r="7.0"/><circle cx="593.3" cy="835.73" r="7.0"/><circle cx="594.3" cy="837.9" r="7.0"/><circle cx="595.39" cy="839.12" r="7.0"/><circle cx="596.39" cy="837.27" r="7.0"/><circle cx="597.25" cy="835.18" r="7.0"/><circle cx="598.25" cy="833.86" r="7.0"/><circle cx="599.96" cy="838.93" r="7.0"/><circle cx="600.96" cy="837.65" r="7.0"/><circle cx="601.54" cy="836.36" r="7.0"/><circle cx="602.54" cy="839.08" r="7.0"/><circle cx="603.41" cy="835.74" r="7.0"/><circle cx="604.41" cy="835.83" r="7.0"/><circle cx="605.71" cy="833.45" r="7.0"/><circle cx="606.71" cy="833.83" r="7.0"/><circle cx="607.24" cy="833.91" r="7.0"/><circle cx="608.24" cy="839.2" r="7.0"/><circle cx="610.15" cy="837.12" r="7.0"/><circle cx="611.15" cy="837.59" r="7.0"/><circle cx="612.97" cy="833.22" r="7.0"/><circle cx="613.97" cy="835.92" r="7.0"/><circle cx="615.49" cy="834.78" r="7.0"/><circle cx="616.49" cy="834.92" r="7.0"/><circle cx="617.92" cy="834.63" r="7.0"/><circle cx="618.92" cy="834.7" r="7.0"/><circle cx="620.85" cy="834.87" r="7.0"/><circle cx="621.85" cy="832.55" r="7.0"/><circle cx="622.53" cy="836.86" r="7.0"/><circle cx="623.53" cy="839.06" r="7.0"/><circle cx="624.43" cy="836.03" r="7.0"/><circle cx="625.43" cy="834.84" r="7.0"/><circle cx="624.43" cy="827.81" r="7.0"/><circle cx="626.13" cy="834.91" r="7.0"/><circle cx="627.13" cy="833.57" r="7.0"/><circle cx="627.99" cy="833.57" r="7.0"/><circle cx="628.99" cy="834.96" r="7.0"/><circle cx="630.41" cy="836.71" r="7.0"/><circle cx="631.41" cy="836" r="7.0"/><circle cx="632.97" cy="836" r="7.0"/><circle cx="633.97" cy="834.98" r="7.0"/><circle cx="635.18" cy="835.02" r="7.0"/><circle cx="636.18" cy="831.92" r="7.0"/><circle cx="637.45" cy="835.49" r="7.0"/><circle cx="638.45" cy="835.36" r="7.0"/><circle cx="637.45" cy="828.38" r="7.0"/><circle cx="640.24" cy="834.55" r="7.0"/><circle cx="641.24" cy="835.07" r="7.0"/><circle cx="642.17" cy="839.42" r="7.0"/><circle cx="643.17" cy="832.46" r="7.0"/><circle cx="643.9" cy="833.43" r="7.0"/><circle cx="644.9" cy="838.21" r="7.0"/><circle cx="645.5" cy="835.52" r="7.0"/><circle cx="646.5" cy="833.9" r="7.0"/><circle cx="647.16" cy="834.46" r="7.0"/><circle cx="648.16" cy="839.09" r="7.0"/><circle cx="648.89" cy="835.19" r="7.0"/><circle cx="649.89" cy="833.02" r="7.0"/><circle cx="651.32" cy="838.52" r="7.0"/><circle cx="652.32" cy="837.71" r="7.0"/><circle cx="653.93" cy="837.83" r="7.0"/><circle cx="654.93" cy="837.1" r="7.0"/><circle cx="656.6" cy="837.61" r="7.0"/><circle cx="657.6" cy="838.65" r="7.0"/><circle cx="656.6" cy="829.68" r="7.0"/><circle cx="658.11" cy="837.98" r="7.0"/><circle cx="659.11" cy="835.36" r="7.0"/><circle cx="661.05" cy="836.72" r="7.0"/><circle cx="662.05" cy="833.68" r="7.0"/><circle cx="663.86" cy="836.95" r="7.0"/><circle cx="664.86" cy="833.3" r="7.0"/><circle cx="666.05" cy="837.7" r="7.0"/><circle cx="667.05" cy="832.43" r="7.0"/><circle cx="668.38" cy="835.5" r="7.0"/><circle cx="669.38" cy="832.72" r="7.0"/><circle cx="671.16" cy="836.25" r="7.0"/><circle cx="672.16" cy="833.94" r="7.0"/><circle cx="671.16" cy="828.26" r="7.0"/><circle cx="672.87" cy="836.74" r="7.0"/><circle cx="673.87" cy="835.32" r="7.0"/><circle cx="672.87" cy="829.8" r="7.0"/><circle cx="674.86" cy="838.48" r="7.0"/><circle cx="675.86" cy="837.88" r="7.0"/><circle cx="676.67" cy="835.77" r="7.0"/><circle cx="677.67" cy="838.61" r="7.0"/><circle cx="676.67" cy="827.62" r="7.0"/><circle cx="679.01" cy="836.23" r="7.0"/><circle cx="680.01" cy="838.7" r="7.0"/><circle cx="681.32" cy="839.49" r="7.0"/><circle cx="682.32" cy="834.67" r="7.0"/><circle cx="683.85" cy="835.53" r="7.0"/><circle cx="684.85" cy="833.08" r="7.0"/><circle cx="685.88" cy="839.16" r="7.0"/><circle cx="686.88" cy="836.26" r="7.0"/><circle cx="687.52" cy="835.43" r="7.0"/><circle cx="688.52" cy="833.51" r="7.0"/><circle cx="689.89" cy="838.72" r="7.0"/><circle cx="690.89" cy="839.14" r="7.0"/><circle cx="692.05" cy="837.06" r="7.0"/><circle cx="693.05" cy="839.46" r="7.0"/><circle cx="694.34" cy="838.3" r="7.0"/><circle cx="695.34" cy="831.21" r="7.0"/><circle cx="697.31" cy="838.37" r="7.0"/><circle cx="698.31" cy="834.63" r="7.0"/><circle cx="697.31" cy="829.74" r="7.0"/><circle cx="699.84" cy="838.33" r="7.0"/><circle cx="700.84" cy="839.4" r="7.0"/><circle cx="701.98" cy="834.02" r="7.0"/><circle cx="702.98" cy="832.4" r="7.0"/><circle cx="704.23" cy="834.22" r="7.0"/><circle cx="705.23" cy="831.32" r="7.0"/><circle cx="706.64" cy="835.3" r="7.0"/><circle cx="707.64" cy="839.44" r="7.0"/><circle cx="708.2" cy="835.67" r="7.0"/><circle cx="709.2" cy="837.38" r="7.0"/><circle cx="710.74" cy="833.03" r="7.0"/><circle cx="711.74" cy="832.54" r="7.0"/><circle cx="713.12" cy="837.34" r="7.0"/><circle cx="714.12" cy="831.47" r="7.0"/><circle cx="715.45" cy="834.73" r="7.0"/><circle cx="716.45" cy="835.97" r="7.0"/><circle cx="718.44" cy="836.73" r="7.0"/><circle cx="719.44" cy="833.61" r="7.0"/><circle cx="718.44" cy="827.89" r="7.0"/><circle cx="721.08" cy="833.69" r="7.0"/><circle cx="722.08" cy="830.5" r="7.0"/><circle cx="721.08" cy="828.81" r="7.0"/><circle cx="723.82" cy="836.98" r="7.0"/><circle cx="724.82" cy="837.57" r="7.0"/><circle cx="723.82" cy="827.53" r="7.0"/><circle cx="726.47" cy="835.1" r="7.0"/><circle cx="727.47" cy="836.65" r="7.0"/><circle cx="728.23" cy="834.73" r="7.0"/><circle cx="729.23" cy="830.49" r="7.0"/><circle cx="730.6" cy="835.27" r="7.0"/><circle cx="731.6" cy="834" r="7.0"/><circle cx="732.18" cy="838.79" r="7.0"/><circle cx="733.18" cy="835.33" r="7.0"/><circle cx="734.34" cy="837.03" r="7.0"/><circle cx="735.34" cy="831.99" r="7.0"/><circle cx="734.34" cy="829.83" r="7.0"/><circle cx="737.12" cy="835.05" r="7.0"/><circle cx="738.12" cy="838.49" r="7.0"/><circle cx="739.08" cy="836.92" r="7.0"/><circle cx="740.08" cy="839.1" r="7.0"/><circle cx="742" cy="834.58" r="7.0"/><circle cx="743" cy="833.4" r="7.0"/><circle cx="743.83" cy="835.01" r="7.0"/><circle cx="744.83" cy="838.25" r="7.0"/><circle cx="746.52" cy="834.58" r="7.0"/><circle cx="747.52" cy="831.23" r="7.0"/><circle cx="748.3" cy="839.32" r="7.0"/><circle cx="749.3" cy="832.41" r="7.0"/><circle cx="749.98" cy="836.47" r="7.0"/><circle cx="750.98" cy="833.36" r="7.0"/><circle cx="751.57" cy="833.8" r="7.0"/><circle cx="752.57" cy="837.76" r="7.0"/><circle cx="753.44" cy="834.24" r="7.0"/><circle cx="754.44" cy="832.34" r="7.0"/><circle cx="754.99" cy="837.32" r="7.0"/><circle cx="755.99" cy="832.91" r="7.0"/><circle cx="754.99" cy="829.26" r="7.0"/><circle cx="756.63" cy="834.75" r="7.0"/><circle cx="757.63" cy="837.85" r="7.0"/><circle cx="756.63" cy="828.61" r="7.0"/><circle cx="759.39" cy="838.23" r="7.0"/><circle cx="760.39" cy="831.09" r="7.0"/><circle cx="761.97" cy="835.45" r="7.0"/><circle cx="762.97" cy="839.08" r="7.0"/><circle cx="764.9" cy="836.28" r="7.0"/><circle cx="765.9" cy="831.77" r="7.0"/><circle cx="766.59" cy="837.59" r="7.0"/><circle cx="767.59" cy="832.11" r="7.0"/><circle cx="768.98" cy="835.39" r="7.0"/><circle cx="769.98" cy="831.96" r="7.0"/><circle cx="770.79" cy="838.67" r="7.0"/><circle cx="771.79" cy="830.73" r="7.0"/><circle cx="773.11" cy="834.76" r="7.0"/><circle cx="774.11" cy="837.22" r="7.0"/><circle cx="775.59" cy="836.69" r="7.0"/><circle cx="776.59" cy="832.61" r="7.0"/><circle cx="777.22" cy="834.15" r="7.0"/><circle cx="778.22" cy="838.01" r="7.0"/><circle cx="779.72" cy="833.71" r="7.0"/><circle cx="780.72" cy="835.12" r="7.0"/><circle cx="781.97" cy="834.93" r="7.0"/><circle cx="782.97" cy="830.16" r="7.0"/><circle cx="783.81" cy="833.82" r="7.0"/><circle cx="784.81" cy="836.67" r="7.0"/><circle cx="785.91" cy="838.91" r="7.0"/><circle cx="786.91" cy="837.25" r="7.0"/><circle cx="788.7" cy="833.86" r="7.0"/><circle cx="789.7" cy="832.27" r="7.0"/><circle cx="788.7" cy="829.2" r="7.0"/><circle cx="791.2" cy="835.28" r="7.0"/><circle cx="792.2" cy="833.63" r="7.0"/><circle cx="793.75" cy="834.61" r="7.0"/><circle cx="794.75" cy="837.97" r="7.0"/><circle cx="796.19" cy="834.18" r="7.0"/><circle cx="797.19" cy="830.65" r="7.0"/><circle cx="798.79" cy="837.63" r="7.0"/><circle cx="799.79" cy="829.9" r="7.0"/><circle cx="798.79" cy="827.91" r="7.0"/><circle cx="800.59" cy="834.97" r="7.0"/><circle cx="801.59" cy="833.31" r="7.0"/><circle cx="800.59" cy="828.28" r="7.0"/><circle cx="803.05" cy="834.17" r="7.0"/><circle cx="804.05" cy="837.89" r="7.0"/><circle cx="805.62" cy="834.66" r="7.0"/><circle cx="806.62" cy="833.85" r="7.0"/><circle cx="807.65" cy="833.01" r="7.0"/><circle cx="808.65" cy="837.84" r="7.0"/><circle cx="809.58" cy="833.28" r="7.0"/><circle cx="810.58" cy="838.04" r="7.0"/><circle cx="811.15" cy="834.59" r="7.0"/><circle cx="812.15" cy="830.61" r="7.0"/><circle cx="812.96" cy="838.94" r="7.0"/><circle cx="813.96" cy="837" r="7.0"/><circle cx="812.96" cy="829.24" r="7.0"/><circle cx="815.05" cy="837.86" r="7.0"/><circle cx="816.05" cy="837.79" r="7.0"/><circle cx="816.69" cy="839.15" r="7.0"/><circle cx="817.69" cy="833.74" r="7.0"/><circle cx="819.22" cy="837.8" r="7.0"/><circle cx="820.22" cy="837.8" r="7.0"/><circle cx="821.4" cy="833.35" r="7.0"/><circle cx="822.4" cy="836.48" r="7.0"/><circle cx="823.67" cy="839.03" r="7.0"/><circle cx="824.67" cy="830.78" r="7.0"/><circle cx="825.24" cy="837.57" r="7.0"/><circle cx="826.24" cy="837.56" r="7.0"/><circle cx="827.56" cy="839.3" r="7.0"/><circle cx="828.56" cy="835.88" r="7.0"/><circle cx="829.43" cy="833.39" r="7.0"/><circle cx="830.43" cy="833.08" r="7.0"/><circle cx="831.23" cy="835.02" r="7.0"/><circle cx="832.23" cy="830.87" r="7.0"/><circle cx="833.74" cy="834.55" r="7.0"/><circle cx="834.74" cy="831.92" r="7.0"/><circle cx="835.91" cy="839.08" r="7.0"/><circle cx="836.91" cy="833.01" r="7.0"/><circle cx="838.73" cy="833.92" r="7.0"/><circle cx="839.73" cy="835.13" r="7.0"/><circle cx="841.46" cy="836.56" r="7.0"/><circle cx="842.46" cy="837.11" r="7.0"/><circle cx="841.46" cy="829.17" r="7.0"/><circle cx="843.85" cy="836" r="7.0"/><circle cx="844.85" cy="837.16" r="7.0"/><circle cx="845.53" cy="834.88" r="7.0"/><circle cx="846.53" cy="833.1" r="7.0"/><circle cx="847.12" cy="834.83" r="7.0"/><circle cx="848.12" cy="831.47" r="7.0"/><circle cx="849.29" cy="833.73" r="7.0"/><circle cx="850.29" cy="832.74" r="7.0"/><circle cx="851.33" cy="834.09" r="7.0"/><circle cx="852.33" cy="830.22" r="7.0"/><circle cx="851.33" cy="829.98" r="7.0"/><circle cx="853.96" cy="833.55" r="7.0"/><circle cx="854.96" cy="836.67" r="7.0"/><circle cx="856.3" cy="833.71" r="7.0"/><circle cx="857.3" cy="834.39" r="7.0"/><circle cx="858.09" cy="836.53" r="7.0"/><circle cx="859.09" cy="829.58" r="7.0"/><circle cx="860.56" cy="837.08" r="7.0"/><circle cx="861.56" cy="838.85" r="7.0"/><circle cx="862.43" cy="834.6" r="7.0"/><circle cx="863.43" cy="830.89" r="7.0"/><circle cx="862.43" cy="829.44" r="7.0"/><circle cx="865.19" cy="834.93" r="7.0"/><circle cx="866.19" cy="831.36" r="7.0"/><circle cx="867.96" cy="839.02" r="7.0"/><circle cx="868.96" cy="831.18" r="7.0"/><circle cx="870.71" cy="837.83" r="7.0"/><circle cx="871.71" cy="832.77" r="7.0"/><circle cx="870.71" cy="829.56" r="7.0"/><circle cx="872.69" cy="835.4" r="7.0"/><circle cx="873.69" cy="835.01" r="7.0"/><circle cx="875.43" cy="834.56" r="7.0"/><circle cx="876.43" cy="829.91" r="7.0"/><circle cx="877.88" cy="838.33" r="7.0"/><circle cx="878.88" cy="836.56" r="7.0"/><circle cx="880.79" cy="836.21" r="7.0"/><circle cx="881.79" cy="834.5" r="7.0"/><circle cx="880.79" cy="828.25" r="7.0"/><circle cx="883.17" cy="833.52" r="7.0"/><circle cx="884.17" cy="836.38" r="7.0"/><circle cx="883.17" cy="828.61" r="7.0"/><circle cx="886.12" cy="833.58" r="7.0"/><circle cx="887.12" cy="829.9" r="7.0"/><circle cx="887.91" cy="837.7" r="7.0"/><circle cx="888.91" cy="829.53" r="7.0"/><circle cx="890.69" cy="838.11" r="7.0"/><circle cx="891.69" cy="833.75" r="7.0"/><circle cx="893.18" cy="836.35" r="7.0"/><circle cx="894.18" cy="833.71" r="7.0"/><circle cx="895.34" cy="837.33" r="7.0"/><circle cx="896.34" cy="837.76" r="7.0"/><circle cx="897.09" cy="834.92" r="7.0"/><circle cx="898.09" cy="833.93" r="7.0"/><circle cx="899.11" cy="834.27" r="7.0"/><circle cx="900.11" cy="830.35" r="7.0"/><circle cx="901.3" cy="839.31" r="7.0"/><circle cx="902.3" cy="838.59" r="7.0"/><circle cx="904.26" cy="839.25" r="7.0"/><circle cx="905.26" cy="835.7" r="7.0"/><circle cx="905.85" cy="837.4" r="7.0"/><circle cx="906.85" cy="835.59" r="7.0"/><circle cx="908.21" cy="839.19" r="7.0"/><circle cx="909.21" cy="834.31" r="7.0"/><circle cx="910.16" cy="835.23" r="7.0"/><circle cx="911.16" cy="838.35" r="7.0"/><circle cx="910.16" cy="827.97" r="7.0"/><circle cx="912.67" cy="835.91" r="7.0"/><circle cx="913.67" cy="830.35" r="7.0"/><circle cx="914.73" cy="836.77" r="7.0"/><circle cx="915.73" cy="833.66" r="7.0"/><circle cx="917.08" cy="835.58" r="7.0"/><circle cx="918.08" cy="830.64" r="7.0"/><circle cx="917.08" cy="829.72" r="7.0"/><circle cx="919.4" cy="833.73" r="7.0"/><circle cx="920.4" cy="838.12" r="7.0"/><circle cx="921.04" cy="836.45" r="7.0"/><circle cx="922.04" cy="832.02" r="7.0"/><circle cx="923.38" cy="834.47" r="7.0"/><circle cx="924.38" cy="835.23" r="7.0"/><circle cx="923.38" cy="828.78" r="7.0"/><circle cx="925.76" cy="833.52" r="7.0"/><circle cx="926.76" cy="833.58" r="7.0"/><circle cx="925.76" cy="828.6" r="7.0"/><circle cx="928.55" cy="836.58" r="7.0"/><circle cx="929.55" cy="836.65" r="7.0"/><circle cx="930.23" cy="839.44" r="7.0"/><circle cx="931.23" cy="836.72" r="7.0"/><circle cx="930.23" cy="829.58" r="7.0"/><circle cx="932.31" cy="834.11" r="7.0"/><circle cx="933.31" cy="839.1" r="7.0"/><circle cx="934.98" cy="833.89" r="7.0"/><circle cx="935.98" cy="837.26" r="7.0"/><circle cx="934.98" cy="828.09" r="7.0"/><circle cx="937.03" cy="833.1" r="7.0"/><circle cx="938.03" cy="835.44" r="7.0"/><circle cx="938.98" cy="837.6" r="7.0"/><circle cx="939.98" cy="833.76" r="7.0"/><circle cx="941.42" cy="838.67" r="7.0"/><circle cx="942.42" cy="835.13" r="7.0"/><circle cx="944.22" cy="834.09" r="7.0"/><circle cx="945.22" cy="836.95" r="7.0"/><circle cx="946.87" cy="837.42" r="7.0"/><circle cx="947.87" cy="837.76" r="7.0"/><circle cx="946.87" cy="828.43" r="7.0"/><circle cx="949.47" cy="839.16" r="7.0"/><circle cx="950.47" cy="836.72" r="7.0"/><circle cx="949.47" cy="829.01" r="7.0"/><circle cx="951.12" cy="836.57" r="7.0"/><circle cx="952.12" cy="837.53" r="7.0"/><circle cx="951.12" cy="829.81" r="7.0"/><circle cx="953.64" cy="834.65" r="7.0"/><circle cx="954.64" cy="831.43" r="7.0"/><circle cx="956.39" cy="836.78" r="7.0"/><circle cx="957.39" cy="830.64" r="7.0"/><circle cx="956.39" cy="827.78" r="7.0"/><circle cx="959.09" cy="834.2" r="7.0"/><circle cx="960.09" cy="835.04" r="7.0"/><circle cx="961.62" cy="835.48" r="7.0"/><circle cx="962.62" cy="830.94" r="7.0"/><circle cx="963.93" cy="837.48" r="7.0"/><circle cx="964.93" cy="837.58" r="7.0"/><circle cx="965.45" cy="835.23" r="7.0"/><circle cx="966.45" cy="831.01" r="7.0"/><circle cx="968.26" cy="838.2" r="7.0"/><circle cx="969.26" cy="829.85" r="7.0"/><circle cx="968.26" cy="829.55" r="7.0"/><circle cx="970.78" cy="835.55" r="7.0"/><circle cx="971.78" cy="834.26" r="7.0"/><circle cx="970.78" cy="829.61" r="7.0"/><circle cx="972.87" cy="838.67" r="7.0"/><circle cx="973.87" cy="835.61" r="7.0"/><circle cx="972.87" cy="828.32" r="7.0"/><circle cx="974.7" cy="838.81" r="7.0"/><circle cx="975.7" cy="835.39" r="7.0"/><circle cx="974.7" cy="827.92" r="7.0"/><circle cx="976.74" cy="836.04" r="7.0"/><circle cx="977.74" cy="835.27" r="7.0"/><circle cx="978.77" cy="833.04" r="7.0"/><circle cx="979.77" cy="835.29" r="7.0"/><circle cx="980.3" cy="835.99" r="7.0"/><circle cx="981.3" cy="839.36" r="7.0"/><circle cx="980.3" cy="827.86" r="7.0"/><circle cx="982.81" cy="834.77" r="7.0"/><circle cx="983.81" cy="832.23" r="7.0"/><circle cx="984.7" cy="836.7" r="7.0"/><circle cx="985.7" cy="834.78" r="7.0"/><circle cx="987.69" cy="833.22" r="7.0"/><circle cx="988.69" cy="835.11" r="7.0"/><circle cx="990.5" cy="838.03" r="7.0"/><circle cx="991.5" cy="835.83" r="7.0"/><circle cx="992.54" cy="834.83" r="7.0"/><circle cx="993.54" cy="837.45" r="7.0"/><circle cx="995.45" cy="837.43" r="7.0"/><circle cx="996.45" cy="832.54" r="7.0"/><circle cx="998.06" cy="836.31" r="7.0"/><circle cx="999.06" cy="835.85" r="7.0"/><circle cx="1000.38" cy="835.64" r="7.0"/><circle cx="1001.38" cy="830.1" r="7.0"/><circle cx="1002.37" cy="839.42" r="7.0"/><circle cx="1003.37" cy="834.31" r="7.0"/><circle cx="1004.23" cy="834.53" r="7.0"/><circle cx="1005.23" cy="832.99" r="7.0"/><circle cx="1004.23" cy="827.52" r="7.0"/><circle cx="1007.04" cy="835.95" r="7.0"/><circle cx="1008.04" cy="833.96" r="7.0"/><circle cx="1008.99" cy="834.1" r="7.0"/><circle cx="1009.99" cy="830.16" r="7.0"/><circle cx="1010.96" cy="837.72" r="7.0"/><circle cx="1011.96" cy="835.01" r="7.0"/><circle cx="1012.97" cy="838.99" r="7.0"/><circle cx="1013.97" cy="835.33" r="7.0"/><circle cx="1012.97" cy="827.95" r="7.0"/><circle cx="1015.34" cy="839.42" r="7.0"/><circle cx="1016.34" cy="833.07" r="7.0"/><circle cx="1017.48" cy="838.64" r="7.0"/><circle cx="1018.48" cy="830.18" r="7.0"/><circle cx="1020.33" cy="834.79" r="7.0"/><circle cx="1021.33" cy="832.08" r="7.0"/><circle cx="1020.33" cy="827.91" r="7.0"/><circle cx="1022.23" cy="837.58" r="7.0"/><circle cx="1023.23" cy="831.68" r="7.0"/><circle cx="1024.03" cy="836.92" r="7.0"/><circle cx="1025.03" cy="838.14" r="7.0"/><circle cx="1025.83" cy="837.77" r="7.0"/><circle cx="1026.83" cy="839.13" r="7.0"/><circle cx="1027.45" cy="838.26" r="7.0"/><circle cx="1028.45" cy="838.26" r="7.0"/><circle cx="1029.15" cy="834.22" r="7.0"/><circle cx="1030.15" cy="834.87" r="7.0"/><circle cx="1031.61" cy="839" r="7.0"/><circle cx="1032.61" cy="831.62" r="7.0"/><circle cx="1034.23" cy="837.22" r="7.0"/><circle cx="1035.23" cy="833.55" r="7.0"/><circle cx="1036.24" cy="833.37" r="7.0"/><circle cx="1037.24" cy="833.64" r="7.0"/><circle cx="1036.24" cy="829.07" r="7.0"/><circle cx="1038.24" cy="836.21" r="7.0"/><circle cx="1039.24" cy="835.48" r="7.0"/><circle cx="1040.44" cy="833.09" r="7.0"/><circle cx="1041.44" cy="838.75" r="7.0"/><circle cx="1043.42" cy="833.36" r="7.0"/><circle cx="1044.42" cy="835.64" r="7.0"/><circle cx="1045.41" cy="833.61" r="7.0"/><circle cx="1046.41" cy="831.06" r="7.0"/><circle cx="1045.41" cy="829.42" r="7.0"/><circle cx="1047.05" cy="838.29" r="7.0"/><circle cx="1048.05" cy="833.73" r="7.0"/><circle cx="1049.43" cy="836.61" r="7.0"/><circle cx="1050.43" cy="836.07" r="7.0"/><circle cx="1051.43" cy="837.82" r="7.0"/><circle cx="1052.43" cy="832.08" r="7.0"/><circle cx="1054.07" cy="838.04" r="7.0"/><circle cx="1055.07" cy="832.59" r="7.0"/><circle cx="1057.04" cy="835.95" r="7.0"/><circle cx="1058.04" cy="832.28" r="7.0"/><circle cx="1059.95" cy="833.86" r="7.0"/><circle cx="1060.95" cy="829.59" r="7.0"/><circle cx="1062.43" cy="838.03" r="7.0"/><circle cx="1063.43" cy="833.12" r="7.0"/><circle cx="1064.27" cy="837.92" r="7.0"/><circle cx="1065.27" cy="830.4" r="7.0"/><circle cx="1064.27" cy="827.84" r="7.0"/><circle cx="1065.86" cy="836.26" r="7.0"/><circle cx="1066.86" cy="835.05" r="7.0"/><circle cx="1065.86" cy="829.85" r="7.0"/><circle cx="1067.91" cy="833.97" r="7.0"/><circle cx="1068.91" cy="831.27" r="7.0"/><circle cx="1070.8" cy="834.05" r="7.0"/><circle cx="1071.8" cy="829.79" r="7.0"/><circle cx="1072.66" cy="839.39" r="7.0"/><circle cx="1073.66" cy="834.49" r="7.0"/><circle cx="1074.68" cy="838.2" r="7.0"/><circle cx="1075.68" cy="834.1" r="7.0"/><circle cx="1077.53" cy="833.7" r="7.0"/><circle cx="1078.53" cy="836.83" r="7.0"/><circle cx="1077.53" cy="829.11" r="7.0"/><circle cx="1079.63" cy="838.62" r="7.0"/><circle cx="1080.63" cy="830.1" r="7.0"/><circle cx="1081.75" cy="838.97" r="7.0"/><circle cx="1082.75" cy="838.95" r="7.0"/><circle cx="1083.58" cy="834.64" r="7.0"/><circle cx="1084.58" cy="832.12" r="7.0"/><circle cx="1085.43" cy="834.32" r="7.0"/><circle cx="1086.43" cy="837.09" r="7.0"/><circle cx="1087.38" cy="839.46" r="7.0"/><circle cx="1088.38" cy="831.67" r="7.0"/><circle cx="1089.11" cy="838.61" r="7.0"/><circle cx="1090.11" cy="838.19" r="7.0"/><circle cx="1091.74" cy="838.35" r="7.0"/><circle cx="1092.74" cy="832.33" r="7.0"/><circle cx="1093.97" cy="838.79" r="7.0"/><circle cx="1094.97" cy="831.12" r="7.0"/><circle cx="1096.37" cy="835.94" r="7.0"/><circle cx="1097.37" cy="835.29" r="7.0"/><circle cx="1098.18" cy="838.74" r="7.0"/><circle cx="1099.18" cy="833.1" r="7.0"/><circle cx="1100.98" cy="834.18" r="7.0"/><circle cx="1101.98" cy="838.14" r="7.0"/><circle cx="1102.92" cy="833.16" r="7.0"/><circle cx="1103.92" cy="830.62" r="7.0"/><circle cx="1104.44" cy="838.93" r="7.0"/><circle cx="1105.44" cy="831.01" r="7.0"/><circle cx="1106.08" cy="834.1" r="7.0"/><circle cx="1107.08" cy="836.33" r="7.0"/><circle cx="1106.08" cy="828.35" r="7.0"/><circle cx="1108.96" cy="837.66" r="7.0"/><circle cx="1109.96" cy="838.32" r="7.0"/><circle cx="1110.51" cy="834.52" r="7.0"/><circle cx="1111.51" cy="837.42" r="7.0"/><circle cx="1112.07" cy="836.28" r="7.0"/><circle cx="1113.07" cy="831.82" r="7.0"/><circle cx="1113.72" cy="833.13" r="7.0"/><circle cx="1114.72" cy="839.41" r="7.0"/><circle cx="1116.54" cy="833.78" r="7.0"/><circle cx="1117.54" cy="834.37" r="7.0"/><circle cx="1116.54" cy="828.57" r="7.0"/><circle cx="1118.31" cy="837.46" r="7.0"/><circle cx="1119.31" cy="830.98" r="7.0"/><circle cx="1120.56" cy="833.73" r="7.0"/><circle cx="1121.56" cy="833.04" r="7.0"/><circle cx="1123.44" cy="835.27" r="7.0"/><circle cx="1124.44" cy="831.65" r="7.0"/><circle cx="1126.26" cy="837.75" r="7.0"/><circle cx="1127.26" cy="832.23" r="7.0"/><circle cx="1126.26" cy="828.16" r="7.0"/><circle cx="1127.87" cy="833.28" r="7.0"/><circle cx="1128.87" cy="834.59" r="7.0"/><circle cx="1130.2" cy="835.36" r="7.0"/><circle cx="1131.2" cy="829.61" r="7.0"/><circle cx="1132.68" cy="836.54" r="7.0"/><circle cx="1133.68" cy="834.99" r="7.0"/><circle cx="1135.66" cy="838.68" r="7.0"/><circle cx="1136.66" cy="836.68" r="7.0"/><circle cx="1137.63" cy="835.72" r="7.0"/><circle cx="1138.63" cy="839.23" r="7.0"/><circle cx="1139.71" cy="835.66" r="7.0"/><circle cx="1140.71" cy="830.93" r="7.0"/><circle cx="1141.22" cy="836.95" r="7.0"/><circle cx="1142.22" cy="838.76" r="7.0"/><circle cx="1143.64" cy="835.45" r="7.0"/><circle cx="1144.64" cy="831.91" r="7.0"/><circle cx="1143.64" cy="827.79" r="7.0"/><circle cx="1146.4" cy="838.1" r="7.0"/><circle cx="1147.4" cy="838.59" r="7.0"/><circle cx="1146.4" cy="829.24" r="7.0"/><circle cx="1148.39" cy="837.2" r="7.0"/><circle cx="1149.39" cy="834.99" r="7.0"/><circle cx="1151.34" cy="833.01" r="7.0"/><circle cx="1152.34" cy="836.96" r="7.0"/><circle cx="1153.61" cy="836.85" r="7.0"/><circle cx="1154.61" cy="839.45" r="7.0"/><circle cx="1156.05" cy="837.83" r="7.0"/><circle cx="1157.05" cy="833.29" r="7.0"/><circle cx="1158.14" cy="836.42" r="7.0"/><circle cx="1159.14" cy="835.63" r="7.0"/><circle cx="1160.13" cy="837.09" r="7.0"/><circle cx="1161.13" cy="834.93" r="7.0"/><circle cx="1162.55" cy="834.72" r="7.0"/><circle cx="1163.55" cy="838.59" r="7.0"/><circle cx="1165.13" cy="836.39" r="7.0"/><circle cx="1166.13" cy="834.27" r="7.0"/><circle cx="1166.84" cy="839.03" r="7.0"/><circle cx="1167.84" cy="834.79" r="7.0"/><circle cx="1169.13" cy="838.29" r="7.0"/><circle cx="1170.13" cy="831.89" r="7.0"/><circle cx="1169.13" cy="829.55" r="7.0"/><circle cx="1171.32" cy="837.16" r="7.0"/><circle cx="1172.32" cy="837.77" r="7.0"/><circle cx="1174.12" cy="833.28" r="7.0"/><circle cx="1175.12" cy="833.31" r="7.0"/><circle cx="1176.85" cy="833.8" r="7.0"/><circle cx="1177.85" cy="831.04" r="7.0"/><circle cx="1178.51" cy="835.32" r="7.0"/><circle cx="1179.51" cy="837.53" r="7.0"/><circle cx="1180.68" cy="833.57" r="7.0"/><circle cx="1181.68" cy="833.46" r="7.0"/><circle cx="1183.23" cy="835.92" r="7.0"/><circle cx="1184.23" cy="834.28" r="7.0"/><circle cx="1185.87" cy="833.97" r="7.0"/><circle cx="1186.87" cy="836.3" r="7.0"/><circle cx="1188.15" cy="834.54" r="7.0"/><circle cx="1189.15" cy="833.21" r="7.0"/><circle cx="1190.22" cy="833.12" r="7.0"/><circle cx="1191.22" cy="831.51" r="7.0"/><circle cx="1191.8" cy="834.16" r="7.0"/><circle cx="1192.8" cy="836.68" r="7.0"/><circle cx="1193.79" cy="834.57" r="7.0"/><circle cx="1194.79" cy="837.84" r="7.0"/><circle cx="1193.79" cy="829.09" r="7.0"/><circle cx="1196.58" cy="834.31" r="7.0"/><circle cx="1197.58" cy="833.73" r="7.0"/><circle cx="1199.01" cy="835.42" r="7.0"/><circle cx="1200.01" cy="829.94" r="7.0"/><circle cx="1201.06" cy="837.63" r="7.0"/><circle cx="1202.06" cy="832.45" r="7.0"/><circle cx="1203.53" cy="838.27" r="7.0"/><circle cx="1204.53" cy="833.02" r="7.0"/><circle cx="1205.9" cy="839.01" r="7.0"/><circle cx="1206.9" cy="831.42" r="7.0"/><circle cx="1208.46" cy="835.42" r="7.0"/><circle cx="1209.46" cy="836.16" r="7.0"/><circle cx="1210.07" cy="837.91" r="7.0"/><circle cx="1211.07" cy="833.29" r="7.0"/><circle cx="1212.32" cy="838.86" r="7.0"/><circle cx="1213.32" cy="837.07" r="7.0"/><circle cx="1212.32" cy="828.98" r="7.0"/><circle cx="1214.51" cy="836" r="7.0"/><circle cx="1215.51" cy="837.9" r="7.0"/><circle cx="1216.72" cy="838.79" r="7.0"/><circle cx="1217.72" cy="833.9" r="7.0"/><circle cx="1218.99" cy="838.36" r="7.0"/><circle cx="1219.99" cy="836.2" r="7.0"/><circle cx="1221.09" cy="833.26" r="7.0"/><circle cx="1222.09" cy="836.3" r="7.0"/><circle cx="1223.74" cy="838" r="7.0"/><circle cx="1224.74" cy="830.68" r="7.0"/><circle cx="1225.36" cy="838.31" r="7.0"/><circle cx="1226.36" cy="830.52" r="7.0"/><circle cx="1225.36" cy="829.38" r="7.0"/><circle cx="1227.71" cy="833.36" r="7.0"/><circle cx="1228.71" cy="836.31" r="7.0"/><circle cx="1229.93" cy="833.36" r="7.0"/><circle cx="1230.93" cy="836.41" r="7.0"/><circle cx="1232.31" cy="839.49" r="7.0"/><circle cx="1233.31" cy="837.67" r="7.0"/><circle cx="1234.02" cy="835.17" r="7.0"/><circle cx="1235.02" cy="834.68" r="7.0"/><circle cx="1234.02" cy="829.97" r="7.0"/><circle cx="1235.94" cy="834.71" r="7.0"/><circle cx="1236.94" cy="832.63" r="7.0"/><circle cx="1238.73" cy="836.61" r="7.0"/><circle cx="1239.73" cy="834.61" r="7.0"/><circle cx="1240.3" cy="834.98" r="7.0"/><circle cx="1241.3" cy="838.17" r="7.0"/><circle cx="1243.09" cy="834.67" r="7.0"/><circle cx="1244.09" cy="831.52" r="7.0"/><circle cx="1243.09" cy="828.84" r="7.0"/><circle cx="1245.15" cy="836.02" r="7.0"/><circle cx="1246.15" cy="834.39" r="7.0"/><circle cx="1247.2" cy="838.21" r="7.0"/><circle cx="1248.2" cy="831.5" r="7.0"/><circle cx="1249.53" cy="833.33" r="7.0"/><circle cx="1250.53" cy="832.64" r="7.0"/><circle cx="356.8" cy="795" r="7.0"/><circle cx="419.7" cy="795" r="7.0"/><circle cx="526.2" cy="795" r="7.0"/><circle cx="540.7" cy="795" r="7.0"/><circle cx="567.4" cy="795" r="7.0"/><circle cx="596.4" cy="795" r="7.0"/><circle cx="595.7" cy="795" r="7.0"/><circle cx="772.4" cy="795" r="7.0"/><circle cx="882.5" cy="788" r="7.0"/><circle cx="910.3" cy="797" r="7.0"/><circle cx="910.5" cy="797" r="7.0"/><circle cx="977.7" cy="796" r="7.0"/><circle cx="1033" cy="798" r="7.0"/><circle cx="1067.2" cy="795" r="7.0"/><circle cx="1098.8" cy="797" r="7.0"/><circle cx="1193.6" cy="795" r="7.0"/><circle cx="1214.7" cy="797" r="7.0"/><circle cx="1234.5" cy="795" r="7.0"/></g>
<g fill="#56467a"><circle cx="283.55" cy="693.8" r="7.0"/><circle cx="306.9" cy="693.8" r="7.0"/><circle cx="313.61" cy="693.8" r="7.0"/><circle cx="320.32" cy="693.8" r="7.0"/><circle cx="327.04" cy="693.8" r="7.0"/><circle cx="333.75" cy="693.8" r="7.0"/><circle cx="340.46" cy="693.8" r="7.0"/><circle cx="347.18" cy="693.8" r="7.0"/><circle cx="353.89" cy="693.8" r="7.0"/><circle cx="360.6" cy="693.8" r="7.0"/><circle cx="378.55" cy="693.8" r="7.0"/><circle cx="395.45" cy="693.8" r="7.0"/><circle cx="415.8" cy="693.8" r="7.0"/><circle cx="422.57" cy="693.8" r="7.0"/><circle cx="429.35" cy="693.8" r="7.0"/><circle cx="436.12" cy="693.8" r="7.0"/><circle cx="442.9" cy="693.8" r="7.0"/><circle cx="463.25" cy="693.8" r="7.0"/><circle cx="486" cy="693.8" r="7.0"/><circle cx="492.18" cy="693.8" r="7.0"/><circle cx="498.35" cy="693.8" r="7.0"/><circle cx="504.53" cy="693.8" r="7.0"/><circle cx="510.7" cy="693.8" r="7.0"/><circle cx="533.1" cy="693.8" r="7.0"/><circle cx="536.1" cy="693.8" r="7.0"/><circle cx="545" cy="693.8" r="7.0"/><circle cx="566.4" cy="693.8" r="7.0"/><circle cx="573" cy="693.8" r="7.0"/><circle cx="599" cy="693.8" r="7.0"/><circle cx="606.8" cy="693.8" r="7.0"/><circle cx="626.9" cy="693.8" r="7.0"/><circle cx="635.9" cy="693.8" r="7.0"/><circle cx="660.35" cy="693.8" r="7.0"/><circle cx="677.7" cy="693.8" r="7.0"/><circle cx="680.6" cy="693.8" r="7.0"/><circle cx="700.7" cy="693.8" r="7.0"/><circle cx="708.5" cy="693.8" r="7.0"/><circle cx="727.55" cy="693.8" r="7.0"/><circle cx="748.7" cy="693.8" r="7.0"/><circle cx="772.95" cy="693.8" r="7.0"/><circle cx="792.3" cy="693.8" r="7.0"/><circle cx="813.2" cy="693.8" r="7.0"/><circle cx="818.6" cy="693.8" r="7.0"/><circle cx="840.05" cy="693.8" r="7.0"/><circle cx="859.2" cy="693.8" r="7.0"/><circle cx="866.1" cy="693.8" r="7.0"/><circle cx="873" cy="693.8" r="7.0"/><circle cx="900.9" cy="693.8" r="7.0"/><circle cx="907.2" cy="693.8" r="7.0"/><circle cx="913.5" cy="693.8" r="7.0"/><circle cx="962.6" cy="693.8" r="7.0"/><circle cx="970.4" cy="693.8" r="7.0"/><circle cx="1018.3" cy="693.8" r="7.0"/><circle cx="1018.8" cy="693.8" r="7.0"/><circle cx="1036.4" cy="693.8" r="7.0"/><circle cx="1044.2" cy="693.8" r="7.0"/><circle cx="1059.4" cy="693.8" r="7.0"/><circle cx="1065.32" cy="693.8" r="7.0"/><circle cx="1071.24" cy="693.8" r="7.0"/><circle cx="1077.16" cy="693.8" r="7.0"/><circle cx="1083.08" cy="693.8" r="7.0"/><circle cx="1089" cy="693.8" r="7.0"/><circle cx="1129.6" cy="693.8" r="7.0"/><circle cx="1133.7" cy="693.8" r="7.0"/><circle cx="1153.5" cy="693.8" r="7.0"/><circle cx="1159.89" cy="693.8" r="7.0"/><circle cx="1166.28" cy="693.8" r="7.0"/><circle cx="1172.67" cy="693.8" r="7.0"/><circle cx="1179.06" cy="693.8" r="7.0"/><circle cx="1185.44" cy="693.8" r="7.0"/><circle cx="1191.83" cy="693.8" r="7.0"/><circle cx="1198.22" cy="693.8" r="7.0"/><circle cx="1204.61" cy="693.8" r="7.0"/><circle cx="1211" cy="693.8" r="7.0"/><circle cx="1233.6" cy="693.8" r="7.0"/><circle cx="1237.7" cy="693.8" r="7.0"/></g>
<g fill="#2a6ea6"><circle cx="504.5" cy="245.6" r="7.0"/><circle cx="739.2" cy="291.1" r="7.0"/><circle cx="864.3" cy="326.2" r="7.0"/><circle cx="1207.8" cy="326.2" r="7.0"/><circle cx="1109.9" cy="494.2" r="7.0"/><circle cx="645" cy="564.4" r="7.0"/><circle cx="658.5" cy="564.4" r="7.0"/><circle cx="732.2" cy="564.4" r="7.0"/><circle cx="986.9" cy="564.4" r="7.0"/><circle cx="308.7" cy="623.9" r="7.0"/><circle cx="431.7" cy="627.8" r="7.0"/><circle cx="650.8" cy="627.8" r="7.0"/><circle cx="671.9" cy="623.9" r="7.0"/><circle cx="702.7" cy="625.8" r="7.0"/><circle cx="836.2" cy="627.5" r="7.0"/><circle cx="861.8" cy="624.2" r="7.0"/><circle cx="886.6" cy="624.2" r="7.0"/><circle cx="998.1" cy="627.5" r="7.0"/><circle cx="1137.6" cy="627.5" r="7.0"/><circle cx="1162.3" cy="627.5" r="7.0"/><circle cx="1222.2" cy="624.2" r="7.0"/></g>
<g fill="#f87f14"><circle cx="280.4" cy="145.9" r="7.0"/><circle cx="291.5" cy="154.2" r="7.0"/><circle cx="284.1" cy="175.5" r="7.0"/><circle cx="329.4" cy="154.2" r="7.0"/><circle cx="350.7" cy="157" r="7.0"/><circle cx="311.6" cy="184" r="7.0"/><circle cx="305" cy="197" r="7.0"/><circle cx="318" cy="198" r="7.0"/><circle cx="331" cy="200" r="7.0"/><circle cx="314" cy="210" r="7.0"/><circle cx="327" cy="210" r="7.0"/><circle cx="304" cy="215" r="7.0"/><circle cx="325" cy="219" r="7.0"/><circle cx="340" cy="205" r="7.0"/><circle cx="347" cy="200" r="7.0"/><circle cx="344" cy="212" r="7.0"/><circle cx="335" cy="192" r="7.0"/><circle cx="347.9" cy="231" r="7.0"/><circle cx="365.5" cy="173.7" r="7.0"/><circle cx="371" cy="186.6" r="7.0"/><circle cx="389.3" cy="175" r="7.0"/><circle cx="449.4" cy="142.8" r="7.0"/><circle cx="436.6" cy="155.1" r="7.0"/><circle cx="474.5" cy="156.5" r="7.0"/><circle cx="475.5" cy="162" r="7.0"/><circle cx="494.2" cy="154" r="7.0"/><circle cx="515" cy="154" r="7.0"/><circle cx="441.9" cy="178.6" r="7.0"/><circle cx="526.4" cy="175" r="7.0"/><circle cx="403" cy="194" r="7.0"/><circle cx="393.9" cy="206.9" r="7.0"/><circle cx="401.4" cy="204.7" r="7.0"/><circle cx="413.1" cy="209" r="7.0"/><circle cx="411.5" cy="222" r="7.0"/><circle cx="412" cy="230" r="7.0"/><circle cx="446.2" cy="195.1" r="7.0"/><circle cx="456.9" cy="194" r="7.0"/><circle cx="463.3" cy="198.3" r="7.0"/><circle cx="449.4" cy="206.9" r="7.0"/><circle cx="459" cy="206.9" r="7.0"/><circle cx="468.6" cy="208" r="7.0"/><circle cx="477.2" cy="214.3" r="7.0"/><circle cx="493.2" cy="198.3" r="7.0"/><circle cx="502.8" cy="198.3" r="7.0"/><circle cx="513.4" cy="196.2" r="7.0"/><circle cx="522" cy="198.3" r="7.0"/><circle cx="522" cy="214.3" r="7.0"/><circle cx="528.4" cy="204.7" r="7.0"/><circle cx="543.5" cy="154" r="7.0"/><circle cx="555.2" cy="154" r="7.0"/><circle cx="594.2" cy="152.4" r="7.0"/><circle cx="655.6" cy="151.4" r="7.0"/><circle cx="596.3" cy="182.3" r="7.0"/><circle cx="620.4" cy="187.6" r="7.0"/><circle cx="668.5" cy="174.8" r="7.0"/><circle cx="668.5" cy="185.5" r="7.0"/><circle cx="526.4" cy="211.1" r="7.0"/><circle cx="539.2" cy="206.9" r="7.0"/><circle cx="541.4" cy="196.2" r="7.0"/><circle cx="552" cy="196.2" r="7.0"/><circle cx="564.8" cy="194" r="7.0"/><circle cx="558.4" cy="206.9" r="7.0"/><circle cx="536" cy="214.3" r="7.0"/><circle cx="573.4" cy="221.8" r="7.0"/><circle cx="530" cy="202" r="7.0"/><circle cx="548" cy="204" r="7.0"/><circle cx="592.6" cy="204.7" r="7.0"/><circle cx="603.3" cy="211.1" r="7.0"/><circle cx="614" cy="206.9" r="7.0"/><circle cx="622.5" cy="213.3" r="7.0"/><circle cx="626.8" cy="202.6" r="7.0"/><circle cx="635.3" cy="198.3" r="7.0"/><circle cx="637.4" cy="211.1" r="7.0"/><circle cx="648.1" cy="206.9" r="7.0"/><circle cx="658.8" cy="204.7" r="7.0"/><circle cx="665.2" cy="206.9" r="7.0"/><circle cx="600" cy="204" r="7.0"/><circle cx="645" cy="200" r="7.0"/><circle cx="730.5" cy="148.1" r="7.0"/><circle cx="734.7" cy="156.7" r="7.0"/><circle cx="788.1" cy="147.1" r="7.0"/><circle cx="720.9" cy="171.6" r="7.0"/><circle cx="691" cy="196.2" r="7.0"/><circle cx="689.9" cy="209" r="7.0"/><circle cx="702.7" cy="198.3" r="7.0"/><circle cx="711.2" cy="204.7" r="7.0"/><circle cx="720.9" cy="200.5" r="7.0"/><circle cx="728.3" cy="185.5" r="7.0"/><circle cx="733.7" cy="189.8" r="7.0"/><circle cx="750.7" cy="183.4" r="7.0"/><circle cx="758.2" cy="185.5" r="7.0"/><circle cx="766.8" cy="196.2" r="7.0"/><circle cx="762.5" cy="204.7" r="7.0"/><circle cx="779.6" cy="213.3" r="7.0"/><circle cx="796.6" cy="179.1" r="7.0"/><circle cx="799.9" cy="189.8" r="7.0"/><circle cx="798.8" cy="202.6" r="7.0"/><circle cx="807.3" cy="200.5" r="7.0"/><circle cx="788.1" cy="206.9" r="7.0"/><circle cx="742" cy="188" r="7.0"/><circle cx="698" cy="205" r="7.0"/><circle cx="832" cy="151.4" r="7.0"/><circle cx="852.3" cy="161" r="7.0"/><circle cx="822.4" cy="170.6" r="7.0"/><circle cx="837.4" cy="172" r="7.0"/><circle cx="911" cy="147.1" r="7.0"/><circle cx="896" cy="159.9" r="7.0"/><circle cx="879" cy="171.6" r="7.0"/><circle cx="952.8" cy="148.1" r="7.0"/><circle cx="952.8" cy="157.8" r="7.0"/><circle cx="945.3" cy="179.1" r="7.0"/><circle cx="803.2" cy="181.2" r="7.0"/><circle cx="806.4" cy="198.3" r="7.0"/><circle cx="816" cy="189.8" r="7.0"/><circle cx="816" cy="209" r="7.0"/><circle cx="828.8" cy="189.8" r="7.0"/><circle cx="836.3" cy="181.2" r="7.0"/><circle cx="842.7" cy="187.6" r="7.0"/><circle cx="835.2" cy="197.3" r="7.0"/><circle cx="847" cy="198.3" r="7.0"/><circle cx="825" cy="200" r="7.0"/><circle cx="840" cy="160" r="7.0"/><circle cx="864.1" cy="194" r="7.0"/><circle cx="872.6" cy="202.6" r="7.0"/><circle cx="851.2" cy="206.9" r="7.0"/><circle cx="864.1" cy="217.5" r="7.0"/><circle cx="866.2" cy="206.9" r="7.0"/><circle cx="856" cy="200" r="7.0"/><circle cx="892.9" cy="199.4" r="7.0"/><circle cx="921.7" cy="210" r="7.0"/><circle cx="935.6" cy="224" r="7.0"/><circle cx="879" cy="230.4" r="7.0"/><circle cx="914.2" cy="230.4" r="7.0"/><circle cx="931.3" cy="247" r="7.0"/><circle cx="992.3" cy="148.1" r="7.0"/><circle cx="998.7" cy="154.6" r="7.0"/><circle cx="1023" cy="157" r="7.0"/><circle cx="1023" cy="167" r="7.0"/><circle cx="1022" cy="177" r="7.0"/><circle cx="1060.6" cy="143.9" r="7.0"/><circle cx="1061.7" cy="180.2" r="7.0"/><circle cx="958.1" cy="196.2" r="7.0"/><circle cx="952.8" cy="206.9" r="7.0"/><circle cx="963.5" cy="206.9" r="7.0"/><circle cx="959.2" cy="213.3" r="7.0"/><circle cx="983.8" cy="211.1" r="7.0"/><circle cx="995.5" cy="198.3" r="7.0"/><circle cx="1004" cy="202.6" r="7.0"/><circle cx="1014.7" cy="196.2" r="7.0"/><circle cx="1023.3" cy="202.6" r="7.0"/><circle cx="1034" cy="204.7" r="7.0"/><circle cx="1044.6" cy="206.9" r="7.0"/><circle cx="1053.2" cy="213.3" r="7.0"/><circle cx="1066" cy="217.5" r="7.0"/><circle cx="1062.8" cy="199.4" r="7.0"/><circle cx="1072.4" cy="195.1" r="7.0"/><circle cx="1040" cy="202" r="7.0"/><circle cx="1123.6" cy="153.1" r="7.0"/><circle cx="1123.6" cy="171" r="7.0"/><circle cx="1096.7" cy="176.1" r="7.0"/><circle cx="1097.9" cy="186.4" r="7.0"/><circle cx="1168.4" cy="171" r="7.0"/><circle cx="1246.5" cy="168.4" r="7.0"/><circle cx="1101.8" cy="217.1" r="7.0"/><circle cx="1123.6" cy="203" r="7.0"/><circle cx="1130" cy="213.3" r="7.0"/><circle cx="1151.7" cy="196.6" r="7.0"/><circle cx="1162" cy="209.4" r="7.0"/><circle cx="1177.4" cy="190.2" r="7.0"/><circle cx="1177.4" cy="204.3" r="7.0"/><circle cx="1190.2" cy="206.9" r="7.0"/><circle cx="1203" cy="188.9" r="7.0"/><circle cx="1205.5" cy="201.7" r="7.0"/><circle cx="1210.7" cy="224.8" r="7.0"/><circle cx="1209.4" cy="213.3" r="7.0"/><circle cx="1226" cy="196.6" r="7.0"/><circle cx="1232.4" cy="209.4" r="7.0"/><circle cx="1221" cy="208" r="7.0"/><circle cx="1169.7" cy="212" r="7.0"/><circle cx="1195" cy="200" r="7.0"/><circle cx="1160" cy="200" r="7.0"/><circle cx="1028" cy="158" r="7.0"/><circle cx="1026" cy="170" r="7.0"/><circle cx="1020" cy="183" r="7.0"/><circle cx="1017" cy="190" r="7.0"/><circle cx="1030" cy="210" r="7.0"/><circle cx="1045" cy="212" r="7.0"/><circle cx="1020" cy="205" r="7.0"/><circle cx="1036" cy="199" r="7.0"/><circle cx="1160" cy="203" r="7.0"/><circle cx="1175" cy="200" r="7.0"/><circle cx="1185" cy="210" r="7.0"/><circle cx="1200" cy="212" r="7.0"/><circle cx="1215" cy="205" r="7.0"/><circle cx="1225" cy="212" r="7.0"/><circle cx="1183" cy="195" r="7.0"/><circle cx="1195" cy="190" r="7.0"/><circle cx="1168" cy="206" r="7.0"/><circle cx="903" cy="147" r="7.0"/><circle cx="950" cy="205" r="7.0"/><circle cx="968" cy="200" r="7.0"/><circle cx="320" cy="205" r="7.0"/><circle cx="312" cy="190" r="7.0"/><circle cx="330" cy="215" r="7.0"/><circle cx="338" cy="199" r="7.0"/><circle cx="310" cy="220" r="7.0"/><circle cx="311.66" cy="187.18" r="7.0"/><circle cx="312.77" cy="197.4" r="7.0"/><circle cx="308.52" cy="193.76" r="7.0"/><circle cx="323.55" cy="199.04" r="7.0"/><circle cx="319.39" cy="202.38" r="7.0"/><circle cx="334.28" cy="201.91" r="7.0"/><circle cx="331.77" cy="196.93" r="7.0"/><circle cx="335.08" cy="198.13" r="7.0"/><circle cx="317.45" cy="205.39" r="7.0"/><circle cx="320.96" cy="210.35" r="7.0"/><circle cx="315.97" cy="206.05" r="7.0"/><circle cx="329.09" cy="203.68" r="7.0"/><circle cx="332.57" cy="206.73" r="7.0"/><circle cx="327.09" cy="212.39" r="7.0"/><circle cx="308.82" cy="213.53" r="7.0"/><circle cx="307.06" cy="217.92" r="7.0"/><circle cx="326" cy="214.99" r="7.0"/><circle cx="327.37" cy="216.33" r="7.0"/><circle cx="344.99" cy="203.99" r="7.0"/><circle cx="343.02" cy="209.12" r="7.0"/><circle cx="344.95" cy="205.19" r="7.0"/><circle cx="336.87" cy="197.21" r="7.0"/><circle cx="337.3" cy="195.2" r="7.0"/><circle cx="398.69" cy="205.46" r="7.0"/><circle cx="403.57" cy="200.39" r="7.0"/><circle cx="405.75" cy="205.98" r="7.0"/><circle cx="413.53" cy="215.41" r="7.0"/><circle cx="413.19" cy="225.69" r="7.0"/><circle cx="450.27" cy="194.94" r="7.0"/><circle cx="448.64" cy="200.31" r="7.0"/><circle cx="458.86" cy="195.65" r="7.0"/><circle cx="459.34" cy="201.22" r="7.0"/><circle cx="464.8" cy="202.39" r="7.0"/><circle cx="453" cy="205.58" r="7.0"/><circle cx="462.04" cy="201.63" r="7.0"/><circle cx="463.98" cy="207.29" r="7.0"/><circle cx="471.97" cy="211.85" r="7.0"/><circle cx="496.89" cy="198.73" r="7.0"/><circle cx="506.95" cy="197.01" r="7.0"/><circle cx="516.84" cy="196.56" r="7.0"/><circle cx="526.61" cy="202.41" r="7.0"/><circle cx="523.61" cy="205.85" r="7.0"/><circle cx="525.13" cy="199.83" r="7.0"/><circle cx="526.26" cy="209.93" r="7.0"/><circle cx="523" cy="214.17" r="7.0"/><circle cx="532.94" cy="205.07" r="7.0"/><circle cx="533.02" cy="208.99" r="7.0"/><circle cx="528.59" cy="202.07" r="7.0"/><circle cx="526.17" cy="208.15" r="7.0"/><circle cx="532.03" cy="209.3" r="7.0"/><circle cx="530.82" cy="212.56" r="7.0"/><circle cx="529.58" cy="206.5" r="7.0"/><circle cx="540.52" cy="202.65" r="7.0"/><circle cx="542.65" cy="204.41" r="7.0"/><circle cx="547.93" cy="197.15" r="7.0"/><circle cx="543.95" cy="199.17" r="7.0"/><circle cx="559.12" cy="196.42" r="7.0"/><circle cx="554.29" cy="202.9" r="7.0"/><circle cx="538.75" cy="210.91" r="7.0"/><circle cx="534.36" cy="203.26" r="7.0"/><circle cx="534.32" cy="200.49" r="7.0"/><circle cx="532.22" cy="208.76" r="7.0"/><circle cx="549.27" cy="201.07" r="7.0"/><circle cx="553.49" cy="204.83" r="7.0"/><circle cx="596.98" cy="208.56" r="7.0"/><circle cx="595.01" cy="203.54" r="7.0"/><circle cx="608.83" cy="210.06" r="7.0"/><circle cx="618.59" cy="209.44" r="7.0"/><circle cx="621.65" cy="203.86" r="7.0"/><circle cx="623.2" cy="207.26" r="7.0"/><circle cx="630.89" cy="199.13" r="7.0"/><circle cx="631.13" cy="206.46" r="7.0"/><circle cx="636.57" cy="203.59" r="7.0"/><circle cx="639.74" cy="200.32" r="7.0"/><circle cx="644.19" cy="209.47" r="7.0"/><circle cx="641.77" cy="205.8" r="7.0"/><circle cx="652.37" cy="204.41" r="7.0"/><circle cx="660.55" cy="207.03" r="7.0"/><circle cx="602.25" cy="208.94" r="7.0"/><circle cx="645.11" cy="203.86" r="7.0"/><circle cx="696.8" cy="197.94" r="7.0"/><circle cx="693.96" cy="202.1" r="7.0"/><circle cx="689.18" cy="202.74" r="7.0"/><circle cx="694.66" cy="208.2" r="7.0"/><circle cx="707.66" cy="202.11" r="7.0"/><circle cx="716.93" cy="203.85" r="7.0"/><circle cx="730.56" cy="188.21" r="7.0"/><circle cx="736.35" cy="187.86" r="7.0"/><circle cx="737.6" cy="189.77" r="7.0"/><circle cx="755.54" cy="184.67" r="7.0"/><circle cx="762.87" cy="190.5" r="7.0"/><circle cx="764.9" cy="200.78" r="7.0"/><circle cx="782.59" cy="210.52" r="7.0"/><circle cx="805.08" cy="196.29" r="7.0"/><circle cx="803.83" cy="193.72" r="7.0"/><circle cx="800.06" cy="196.44" r="7.0"/><circle cx="802.87" cy="202.57" r="7.0"/><circle cx="801.35" cy="201.2" r="7.0"/><circle cx="810.24" cy="195.45" r="7.0"/><circle cx="811.59" cy="203.94" r="7.0"/><circle cx="794.05" cy="204.74" r="7.0"/><circle cx="746.69" cy="186.96" r="7.0"/><circle cx="699.62" cy="200.18" r="7.0"/><circle cx="704" cy="205.38" r="7.0"/><circle cx="805.96" cy="198.41" r="7.0"/><circle cx="812.42" cy="194.53" r="7.0"/><circle cx="822.23" cy="190.98" r="7.0"/><circle cx="819.98" cy="195.4" r="7.0"/><circle cx="819.6" cy="204.29" r="7.0"/><circle cx="832.92" cy="194.79" r="7.0"/><circle cx="845.99" cy="192.6" r="7.0"/><circle cx="839.2" cy="191.9" r="7.0"/><circle cx="840.01" cy="197.79" r="7.0"/><circle cx="850.11" cy="203.65" r="7.0"/><circle cx="852.13" cy="200.5" r="7.0"/><circle cx="826.23" cy="193.91" r="7.0"/><circle cx="829.95" cy="197.98" r="7.0"/><circle cx="867.49" cy="198.04" r="7.0"/><circle cx="865.53" cy="200.43" r="7.0"/><circle cx="853.05" cy="204.47" r="7.0"/><circle cx="866.6" cy="212.06" r="7.0"/><circle cx="868.12" cy="203.34" r="7.0"/><circle cx="861.17" cy="195.62" r="7.0"/><circle cx="861.73" cy="203.66" r="7.0"/><circle cx="960.23" cy="202.42" r="7.0"/><circle cx="961.61" cy="197.01" r="7.0"/><circle cx="955.31" cy="200.12" r="7.0"/><circle cx="959.14" cy="206.11" r="7.0"/><circle cx="954.92" cy="208.74" r="7.0"/><circle cx="966.14" cy="203.29" r="7.0"/><circle cx="961.74" cy="210.57" r="7.0"/><circle cx="1000.67" cy="201.83" r="7.0"/><circle cx="1009.9" cy="198.5" r="7.0"/><circle cx="1018.93" cy="198.44" r="7.0"/><circle cx="1014.38" cy="193.02" r="7.0"/><circle cx="1017.99" cy="199.64" r="7.0"/><circle cx="1027.97" cy="203.19" r="7.0"/><circle cx="1027.24" cy="206.36" r="7.0"/><circle cx="1029.99" cy="201.57" r="7.0"/><circle cx="1038.98" cy="206.68" r="7.0"/><circle cx="1038.22" cy="202.11" r="7.0"/><circle cx="1040.8" cy="209.02" r="7.0"/><circle cx="1033.89" cy="201.71" r="7.0"/><circle cx="1049.28" cy="211.33" r="7.0"/><circle cx="1044.43" cy="209.66" r="7.0"/><circle cx="1060.74" cy="216.29" r="7.0"/><circle cx="1068.93" cy="197.14" r="7.0"/><circle cx="1042.75" cy="203.56" r="7.0"/><circle cx="1043.17" cy="207.96" r="7.0"/><circle cx="1127.22" cy="208.8" r="7.0"/><circle cx="1154.99" cy="199.5" r="7.0"/><circle cx="1157.29" cy="201.23" r="7.0"/><circle cx="1165.96" cy="211.57" r="7.0"/><circle cx="1164.46" cy="208.93" r="7.0"/><circle cx="1181.27" cy="192.15" r="7.0"/><circle cx="1182.55" cy="205.42" r="7.0"/><circle cx="1181.35" cy="207.95" r="7.0"/><circle cx="1180.16" cy="198.24" r="7.0"/><circle cx="1193.53" cy="202.14" r="7.0"/><circle cx="1196" cy="208.47" r="7.0"/><circle cx="1203.76" cy="196.16" r="7.0"/><circle cx="1206.37" cy="206.45" r="7.0"/><circle cx="1210.3" cy="204.02" r="7.0"/><circle cx="1211.07" cy="219.62" r="7.0"/><circle cx="1216.54" cy="210.63" r="7.0"/><circle cx="1213.55" cy="207.91" r="7.0"/><circle cx="1222.66" cy="202.38" r="7.0"/><circle cx="1226.07" cy="209.39" r="7.0"/><circle cx="1223.42" cy="210.07" r="7.0"/><circle cx="1174.58" cy="208.33" r="7.0"/><circle cx="1171.79" cy="205.64" r="7.0"/><circle cx="1200.04" cy="195.65" r="7.0"/><circle cx="1199.37" cy="201.9" r="7.0"/><circle cx="1198.91" cy="206.07" r="7.0"/><circle cx="1161.22" cy="203.8" r="7.0"/><circle cx="1160.11" cy="201.51" r="7.0"/><circle cx="1164.32" cy="201.58" r="7.0"/><circle cx="1033.41" cy="207.4" r="7.0"/><circle cx="1034.7" cy="206.9" r="7.0"/><circle cx="1033.19" cy="204.47" r="7.0"/><circle cx="1049.67" cy="211.35" r="7.0"/><circle cx="1021.77" cy="203.54" r="7.0"/><circle cx="1026.37" cy="208.77" r="7.0"/><circle cx="1039.61" cy="202.87" r="7.0"/><circle cx="1036.88" cy="200.3" r="7.0"/><circle cx="1161.95" cy="207.4" r="7.0"/><circle cx="1164.78" cy="206.95" r="7.0"/><circle cx="1163.07" cy="204.85" r="7.0"/><circle cx="1177.48" cy="193.99" r="7.0"/><circle cx="1177.04" cy="200.72" r="7.0"/><circle cx="1178.08" cy="196.68" r="7.0"/><circle cx="1188.16" cy="207.92" r="7.0"/><circle cx="1202.32" cy="207.21" r="7.0"/><circle cx="1203.51" cy="213.34" r="7.0"/><circle cx="1219.37" cy="200.83" r="7.0"/><circle cx="1217.25" cy="205.59" r="7.0"/><circle cx="1220.09" cy="208.31" r="7.0"/><circle cx="1228.33" cy="210.44" r="7.0"/><circle cx="1186.69" cy="199.93" r="7.0"/><circle cx="1188.11" cy="197.89" r="7.0"/><circle cx="1189.42" cy="192.59" r="7.0"/><circle cx="1200.05" cy="189.79" r="7.0"/><circle cx="1196.07" cy="194.2" r="7.0"/><circle cx="1173.42" cy="206.08" r="7.0"/><circle cx="1170.06" cy="208.45" r="7.0"/><circle cx="1170.94" cy="204.27" r="7.0"/><circle cx="953.2" cy="202.1" r="7.0"/><circle cx="952.56" cy="204.85" r="7.0"/><circle cx="955.97" cy="206.63" r="7.0"/><circle cx="953.88" cy="207.94" r="7.0"/><circle cx="326.5" cy="202.26" r="7.0"/><circle cx="324.37" cy="206.38" r="7.0"/><circle cx="314.71" cy="194.56" r="7.0"/><circle cx="337.55" cy="201.1" r="7.0"/><circle cx="343.05" cy="200.73" r="7.0"/><circle cx="313.41" cy="213.85" r="7.0"/><circle cx="385.6" cy="371.4" r="7.0"/><circle cx="500.9" cy="329.9" r="7.0"/><circle cx="547" cy="319.2" r="7.0"/><circle cx="573.9" cy="329.9" r="7.0"/><circle cx="518.2" cy="388.3" r="7.0"/><circle cx="552.8" cy="406" r="7.0"/><circle cx="570.1" cy="427.9" r="7.0"/><circle cx="560.5" cy="462.5" r="7.0"/><circle cx="525.9" cy="472.9" r="7.0"/><circle cx="354.9" cy="579" r="7.0"/><circle cx="416.4" cy="579" r="7.0"/><circle cx="679.6" cy="294.6" r="7.0"/><circle cx="693.1" cy="602" r="7.0"/><circle cx="645" cy="645.1" r="7.0"/><circle cx="671.9" cy="635.5" r="7.0"/><circle cx="710.4" cy="631.6" r="7.0"/><circle cx="937.4" cy="270.5" r="7.0"/><circle cx="1022" cy="262.6" r="7.0"/><circle cx="1203.3" cy="262.6" r="7.0"/><circle cx="1228.6" cy="270" r="7.0"/><circle cx="982.8" cy="329.1" r="7.0"/><circle cx="993.9" cy="347.7" r="7.0"/><circle cx="784.6" cy="406.7" r="7.0"/><circle cx="878.3" cy="403.4" r="7.0"/><circle cx="927" cy="392.2" r="7.0"/><circle cx="934.5" cy="420.7" r="7.0"/><circle cx="1123.1" cy="393.1" r="7.0"/><circle cx="1193.3" cy="413.7" r="7.0"/><circle cx="1172.7" cy="428.2" r="7.0"/><circle cx="1235.4" cy="441.8" r="7.0"/><circle cx="1224.3" cy="463.2" r="7.0"/><circle cx="1098.4" cy="514.8" r="7.0"/><circle cx="1008.4" cy="519" r="7.0"/><circle cx="875.4" cy="529.3" r="7.0"/><circle cx="1060.4" cy="547" r="7.0"/><circle cx="1189.2" cy="560.2" r="7.0"/><circle cx="920.9" cy="620.1" r="7.0"/><circle cx="1017.9" cy="634.6" r="7.0"/><circle cx="868.4" cy="665.5" r="7.0"/><circle cx="1207.8" cy="661.4" r="7.0"/></g>
<line x1="228.5" y1="693" x2="1297" y2="693" stroke="#c44a58" stroke-width="5.5"/>
<rect x="179.8" y="109.4" width="1171.6000000000001" height="763.5" fill="none" stroke="#7c7c7c" stroke-width="4.2"/>
<line x1="166.5" y1="845.3" x2="179.8" y2="845.3" stroke="#5a5a5a" stroke-width="4.4"/>
<text transform="translate(129.53,861.2) scale(1,1.0023)" font-size="37.5" fill="#363636" stroke="#363636" stroke-width="1.6" filter="url(#tsoft)" >0</text>
<line x1="166.5" y1="750.3" x2="179.8" y2="750.3" stroke="#5a5a5a" stroke-width="4.4"/>
<text transform="translate(130.12,766.8) scale(1,0.9858)" font-size="38.96" fill="#363636" stroke="#363636" stroke-width="1.6" filter="url(#tsoft)" >2</text>
<line x1="166.5" y1="655.6" x2="179.8" y2="655.6" stroke="#5a5a5a" stroke-width="4.4"/>
<text transform="translate(129.59,668.1) scale(1,1.0166)" font-size="37.78" fill="#363636" stroke="#363636" stroke-width="1.6" filter="url(#tsoft)" >4</text>
<line x1="166.5" y1="558.1" x2="179.8" y2="558.1" stroke="#5a5a5a" stroke-width="4.4"/>
<text transform="translate(133.18,574.8) scale(1,1.2278)" font-size="34.52" fill="#363636" stroke="#363636" stroke-width="1.6" filter="url(#tsoft)" >6</text>
<line x1="166.5" y1="463.5" x2="179.8" y2="463.5" stroke="#5a5a5a" stroke-width="4.4"/>
<text transform="translate(129.73,478.8) scale(1,1.0218)" font-size="39.2" fill="#363636" stroke="#363636" stroke-width="1.6" filter="url(#tsoft)" >8</text>
<line x1="166.5" y1="368.5" x2="179.8" y2="368.5" stroke="#5a5a5a" stroke-width="4.4"/>
<text transform="translate(106.66,384.8) scale(1,1.1928)" font-size="33.12" fill="#363636" stroke="#363636" stroke-width="1.6" filter="url(#tsoft)" >10</text>
<line x1="166.5" y1="273.7" x2="179.8" y2="273.7" stroke="#5a5a5a" stroke-width="4.4"/>
<text transform="translate(106.45,289.5) scale(1,1.1389)" font-size="34.09" fill="#363636" stroke="#363636" stroke-width="1.6" filter="url(#tsoft)" >12</text>
<line x1="166.5" y1="179.3" x2="179.8" y2="179.3" stroke="#5a5a5a" stroke-width="4.4"/>
<text transform="translate(106.63,194.9) scale(1,1.2044)" font-size="32.46" fill="#363636" stroke="#363636" stroke-width="1.6" filter="url(#tsoft)" >14</text>
<line x1="281.1" y1="872.9" x2="281.1" y2="886.5" stroke="#5a5a5a" stroke-width="4.4"/>
<text transform="translate(269.85,927.5) scale(1,1.0131)" font-size="40.08" fill="#363636" stroke="#363636" stroke-width="1.6" filter="url(#tsoft)" >0</text>
<line x1="417.2" y1="872.9" x2="417.2" y2="886.5" stroke="#5a5a5a" stroke-width="4.4"/>
<text transform="translate(384.27,927.5) scale(1,1.2377)" font-size="32.81" fill="#363636" stroke="#363636" stroke-width="1.6" filter="url(#tsoft)" >200</text>
<line x1="549.7" y1="872.9" x2="549.7" y2="886.5" stroke="#5a5a5a" stroke-width="4.4"/>
<text transform="translate(515.4,927.5) scale(1,1.2181)" font-size="33.33" fill="#363636" stroke="#363636" stroke-width="1.6" filter="url(#tsoft)" >400</text>
<line x1="686.4" y1="872.9" x2="686.4" y2="886.5" stroke="#5a5a5a" stroke-width="4.4"/>
<text transform="translate(651.93,927.5) scale(1,1.1737)" font-size="34.59" fill="#363636" stroke="#363636" stroke-width="1.6" filter="url(#tsoft)" >600</text>
<line x1="823.3" y1="872.9" x2="823.3" y2="886.5" stroke="#5a5a5a" stroke-width="4.4"/>
<text transform="translate(788.11,927.5) scale(1,1.2045)" font-size="33.71" fill="#363636" stroke="#363636" stroke-width="1.6" filter="url(#tsoft)" >800</text>
<line x1="956.3" y1="872.9" x2="956.3" y2="886.5" stroke="#5a5a5a" stroke-width="4.4"/>
<text transform="translate(910.8,927.5) scale(1,1.1914)" font-size="34.08" fill="#363636" stroke="#363636" stroke-width="1.6" filter="url(#tsoft)" >1000</text>
<line x1="1092.5" y1="872.9" x2="1092.5" y2="886.5" stroke="#5a5a5a" stroke-width="4.4"/>
<text transform="translate(1048.45,927.5) scale(1,1.2064)" font-size="33.66" fill="#363636" stroke="#363636" stroke-width="1.6" filter="url(#tsoft)" >1200</text>
<line x1="1228.9" y1="872.9" x2="1228.9" y2="886.5" stroke="#5a5a5a" stroke-width="4.4"/>
<text transform="translate(1180.95,927.5) scale(1,1.2064)" font-size="33.66" fill="#363636" stroke="#363636" stroke-width="1.6" filter="url(#tsoft)" >1400</text>
<text transform="translate(617.68,974.6) scale(1,1.0141)" font-size="34.9" fill="#363636" stroke="#363636" stroke-width="1.6" filter="url(#tsoft)" >Data point index</text>
<text transform="translate(83,658.76) rotate(-90) scale(1,1.1328)" font-size="33.3" fill="#363636" stroke="#363636" stroke-width="1.6" filter="url(#tsoft)">Reconstruction error</text>
<text transform="translate(329.85,90) scale(1,1.0203)" font-size="42.35" fill="#363636" stroke="#363636" stroke-width="1.6" filter="url(#tsoft)" >Reconstruction error for different classes</text>
<rect x="197.6" y="406.4" width="294.8" height="168" rx="5" ry="5" fill="#ffffff" fill-opacity="0.92" stroke="#d4d4d4" stroke-width="2.8"/>
<circle cx="245.8" cy="438.1" r="7.0" fill="#1f77b4"/>
<circle cx="245.8" cy="491" r="7.0" fill="#f87f14"/>
<line x1="208.3" y1="541" x2="278.2" y2="541" stroke="#c44a58" stroke-width="5.5"/>
<text transform="translate(305.67,449.9) scale(1,0.9872)" font-size="35.99" fill="#363636" stroke="#363636" stroke-width="1.6" filter="url(#tsoft)" >Normal</text>
<text transform="translate(307.73,502.7) scale(1,1.0155)" font-size="34.04" fill="#363636" stroke="#363636" stroke-width="1.6" filter="url(#tsoft)" >Anomaly</text>
<text transform="translate(311.57,554.4) scale(1,0.9850)" font-size="34.46" fill="#363636" stroke="#363636" stroke-width="1.6" filter="url(#tsoft)" >Threshold</text>
<rect x="26" y="1022.5" width="1357" height="8" fill="#1b1f27"/>
<rect x="26" y="1022.5" width="8.3" height="1095.5" fill="#1b1f27"/>
<rect x="1368" y="1022.5" width="15" height="1095.5" fill="#1b1f27"/>
<rect x="26" y="2110.5" width="1357" height="7.5" fill="#1b1f27"/>
<rect x="140" y="1096" width="506" height="454" fill="#faebdd"/>
<rect x="646" y="1096" width="502" height="454" fill="#07071d"/>
<rect x="140" y="1550" width="506" height="455" fill="#03051a"/>
<rect x="646" y="1550" width="502" height="455" fill="#4e1d4b"/>
<text transform="translate(356.17,1332.6) scale(1,1.1488)" font-size="27.58" fill="#3b332d" stroke="#3b332d" stroke-width="0.5" filter="url(#tsoft)" >1171</text>
<text transform="translate(879.07,1332.9) scale(1,1.1678)" font-size="27.49" fill="#e6e4ee" stroke="#e6e4ee" stroke-width="0.4" filter="url(#tsoft)" >21</text>
<text transform="translate(386.3,1787) scale(1,1.0871)" font-size="28.77" fill="#e6e4ee" stroke="#e6e4ee" stroke-width="0.4" filter="url(#tsoft)" >0</text>
<text transform="translate(869.97,1786.8) scale(1,1.2024)" font-size="27.38" fill="#e6e4ee" stroke="#e6e4ee" stroke-width="0.4" filter="url(#tsoft)" >239</text>
<line x1="131.5" y1="1322.8" x2="140" y2="1322.8" stroke="#555" stroke-width="2.6"/>
<line x1="131.5" y1="1777.2" x2="140" y2="1777.2" stroke="#555" stroke-width="2.6"/>
<line x1="392.9" y1="2005" x2="392.9" y2="2017.5" stroke="#555" stroke-width="2.6"/>
<line x1="898" y1="2005" x2="898" y2="2017.5" stroke="#555" stroke-width="2.6"/>
<text transform="translate(116,1381.51) rotate(-90) scale(1,1.1438)" font-size="28.66" fill="#3a3a3a" stroke="#3a3a3a" stroke-width="0.6" filter="url(#tsoft)">Normal</text>
<text transform="translate(113.5,1844.22) rotate(-90) scale(1,1.1581)" font-size="27.6" fill="#3a3a3a" stroke="#3a3a3a" stroke-width="0.6" filter="url(#tsoft)">Anomaly</text>
<text transform="translate(73.6,1620.24) rotate(-90) scale(1,1.1181)" font-size="27.65" fill="#3a3a3a" stroke="#3a3a3a" stroke-width="0.6" filter="url(#tsoft)">True class</text>
<text transform="translate(339.33,2045.6) scale(1,0.9896)" font-size="29.25" fill="#3a3a3a" stroke="#3a3a3a" stroke-width="0.6" filter="url(#tsoft)" >Normal</text>
<text transform="translate(834.58,2045.6) scale(1,1.0522)" font-size="27.51" fill="#3a3a3a" stroke="#3a3a3a" stroke-width="0.6" filter="url(#tsoft)" >Anomaly</text>
<text transform="translate(536.8,2085.6) scale(1,1.0272)" font-size="28.57" fill="#3a3a3a" stroke="#3a3a3a" stroke-width="0.6" filter="url(#tsoft)" >Predicted class</text>
<text transform="translate(499.21,1077.6) scale(1,1.0046)" font-size="33.73" fill="#333333" stroke="#333333" stroke-width="0.8" filter="url(#tsoft)" >Confusion matrix</text>
<rect x="1211.8" y="1097" width="44.6" height="908" fill="url(#rocket)"/>
<line x1="1256.4" y1="2005.5" x2="1271" y2="2005.5" stroke="#555" stroke-width="2.6"/>
<text transform="translate(1278.24,2018.7) scale(1,1.0056)" font-size="32.74" fill="#3a3a3a" stroke="#3a3a3a" stroke-width="0.6" filter="url(#tsoft)" >0</text>
<line x1="1256.4" y1="1849.94" x2="1271" y2="1849.94" stroke="#555" stroke-width="2.6"/>
<text transform="translate(1278.4,1863.14) scale(1,1.2177)" font-size="27.04" fill="#3a3a3a" stroke="#3a3a3a" stroke-width="0.6" filter="url(#tsoft)" >200</text>
<line x1="1256.4" y1="1694.38" x2="1271" y2="1694.38" stroke="#555" stroke-width="2.6"/>
<text transform="translate(1279.12,1707.58) scale(1,1.2356)" font-size="26.64" fill="#3a3a3a" stroke="#3a3a3a" stroke-width="0.6" filter="url(#tsoft)" >400</text>
<line x1="1256.4" y1="1538.82" x2="1271" y2="1538.82" stroke="#555" stroke-width="2.6"/>
<text transform="translate(1278.51,1552.02) scale(1,1.2204)" font-size="26.98" fill="#3a3a3a" stroke="#3a3a3a" stroke-width="0.6" filter="url(#tsoft)" >600</text>
<line x1="1256.4" y1="1383.26" x2="1271" y2="1383.26" stroke="#555" stroke-width="2.6"/>
<text transform="translate(1278.57,1396.46) scale(1,1.2218)" font-size="26.94" fill="#3a3a3a" stroke="#3a3a3a" stroke-width="0.6" filter="url(#tsoft)" >800</text>
<line x1="1256.4" y1="1227.7" x2="1271" y2="1227.7" stroke="#555" stroke-width="2.6"/>
<text transform="translate(1277.43,1240.9) scale(1,1.2200)" font-size="26.98" fill="#3a3a3a" stroke="#3a3a3a" stroke-width="0.6" filter="url(#tsoft)" >1000</text>
</g>
</svg></body></html>
